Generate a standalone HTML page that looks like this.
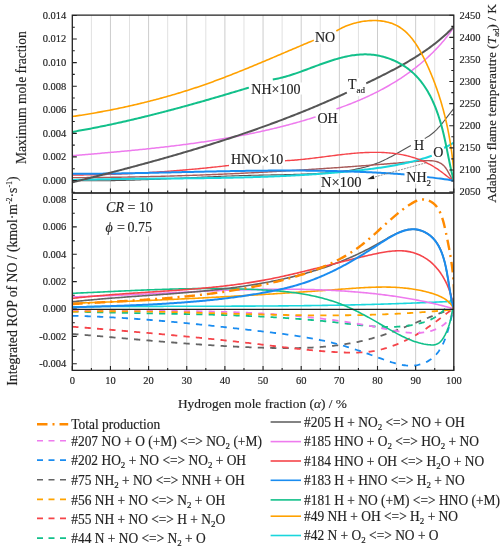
<!DOCTYPE html>
<html><head><meta charset="utf-8"><title>chart</title>
<style>html,body{margin:0;padding:0;background:#fff;}body{width:503px;height:550px;overflow:hidden;font-family:"Liberation Serif",serif;}svg{display:block;will-change:transform;}</style>
</head><body>
<svg width="503" height="550" viewBox="0 0 503 550">
<rect width="503" height="550" fill="#fff"/>
<line x1="91.38" y1="15.20" x2="91.38" y2="370.40" stroke="#e1e1e1" stroke-width="1"/>
<line x1="110.45" y1="15.20" x2="110.45" y2="370.40" stroke="#cdcdcd" stroke-width="1"/>
<line x1="129.53" y1="15.20" x2="129.53" y2="370.40" stroke="#e1e1e1" stroke-width="1"/>
<line x1="148.60" y1="15.20" x2="148.60" y2="370.40" stroke="#cdcdcd" stroke-width="1"/>
<line x1="167.68" y1="15.20" x2="167.68" y2="370.40" stroke="#e1e1e1" stroke-width="1"/>
<line x1="186.75" y1="15.20" x2="186.75" y2="370.40" stroke="#cdcdcd" stroke-width="1"/>
<line x1="205.82" y1="15.20" x2="205.82" y2="370.40" stroke="#e1e1e1" stroke-width="1"/>
<line x1="224.90" y1="15.20" x2="224.90" y2="370.40" stroke="#cdcdcd" stroke-width="1"/>
<line x1="243.98" y1="15.20" x2="243.98" y2="370.40" stroke="#e1e1e1" stroke-width="1"/>
<line x1="263.05" y1="15.20" x2="263.05" y2="370.40" stroke="#cdcdcd" stroke-width="1"/>
<line x1="282.12" y1="15.20" x2="282.12" y2="370.40" stroke="#e1e1e1" stroke-width="1"/>
<line x1="301.20" y1="15.20" x2="301.20" y2="370.40" stroke="#cdcdcd" stroke-width="1"/>
<line x1="320.27" y1="15.20" x2="320.27" y2="370.40" stroke="#e1e1e1" stroke-width="1"/>
<line x1="339.35" y1="15.20" x2="339.35" y2="370.40" stroke="#cdcdcd" stroke-width="1"/>
<line x1="358.43" y1="15.20" x2="358.43" y2="370.40" stroke="#e1e1e1" stroke-width="1"/>
<line x1="377.50" y1="15.20" x2="377.50" y2="370.40" stroke="#cdcdcd" stroke-width="1"/>
<line x1="396.57" y1="15.20" x2="396.57" y2="370.40" stroke="#e1e1e1" stroke-width="1"/>
<line x1="415.65" y1="15.20" x2="415.65" y2="370.40" stroke="#cdcdcd" stroke-width="1"/>
<line x1="434.73" y1="15.20" x2="434.73" y2="370.40" stroke="#e1e1e1" stroke-width="1"/>
<defs><clipPath id="cT"><rect x="72.3" y="15.2" width="381.5" height="177.8"/></clipPath><clipPath id="cB"><rect x="72.3" y="193.0" width="381.5" height="177.4"/></clipPath></defs>
<g clip-path="url(#cT)">
<path d="M72.30,180.60 L73.81,180.63 L75.32,180.66 L76.83,180.69 L78.34,180.71 L79.86,180.74 L81.37,180.76 L82.88,180.77 L84.39,180.79 L85.90,180.80 L87.41,180.81 L88.92,180.82 L90.43,180.82 L91.94,180.82 L93.45,180.82 L94.96,180.82 L96.47,180.82 L97.98,180.81 L99.50,180.80 L101.01,180.79 L102.52,180.78 L104.03,180.76 L105.54,180.74 L107.05,180.72 L108.55,180.70 L110.06,180.68 L111.57,180.66 L113.08,180.63 L114.59,180.60 L116.10,180.57 L117.61,180.54 L119.12,180.50 L120.63,180.47 L122.14,180.43 L123.65,180.39 L125.16,180.35 L126.67,180.31 L128.18,180.27 L129.69,180.22 L131.20,180.18 L132.70,180.13 L134.21,180.08 L135.72,180.03 L137.23,179.98 L138.74,179.93 L140.25,179.88 L141.76,179.82 L143.27,179.77 L144.77,179.71 L146.28,179.65 L147.79,179.59 L149.30,179.54 L150.81,179.48 L152.32,179.41 L153.83,179.35 L155.33,179.29 L156.84,179.23 L158.35,179.16 L159.86,179.10 L161.37,179.03 L162.87,178.96 L164.38,178.90 L165.89,178.83 L167.40,178.76 L168.91,178.69 L170.42,178.62 L171.92,178.56 L173.43,178.49 L174.94,178.42 L176.45,178.35 L177.96,178.28 L179.46,178.21 L180.97,178.14 L182.48,178.06 L183.99,177.99 L185.50,177.92 L187.00,177.85 L188.51,177.78 L190.02,177.71 L191.53,177.64 L193.04,177.57 L194.54,177.50 L196.05,177.43 L197.56,177.36 L199.07,177.29 L200.58,177.22 L202.08,177.15 L203.59,177.08 L205.10,177.01 L206.61,176.94 L208.12,176.88 L209.62,176.81 L211.13,176.74 L212.64,176.68 L214.15,176.61 L215.66,176.55 L217.16,176.49 L218.67,176.42 L220.18,176.36 L221.69,176.30 L223.20,176.24 L224.70,176.18 L226.21,176.12 L227.72,176.07 L229.23,176.01 L230.74,175.95 L232.25,175.90 L233.75,175.85 L235.26,175.80 L236.77,175.74 L238.28,175.70 L239.79,175.65 L241.30,175.60 L242.80,175.55 L244.31,175.51 L245.82,175.47 L247.33,175.43 L248.84,175.39 L250.35,175.35 L251.86,175.31 L253.37,175.28 L254.87,175.24 L256.38,175.21 L257.89,175.18 L259.40,175.15 L260.91,175.12 L262.42,175.09 L263.93,175.06 L265.44,175.03 L266.95,175.00 L268.46,174.98 L269.97,174.95 L271.48,174.92 L272.98,174.89 L274.49,174.86 L276.00,174.84 L277.51,174.81 L279.02,174.78 L280.53,174.75 L282.04,174.71 L283.55,174.68 L285.06,174.65 L286.57,174.61 L288.09,174.58 L289.60,174.54 L291.11,174.50 L292.62,174.46 L294.13,174.41 L295.64,174.37 L297.15,174.32 L298.66,174.27 L300.17,174.22 L301.69,174.16 L303.20,174.11 L304.71,174.05 L306.22,173.98 L307.73,173.92 L309.25,173.85 L310.76,173.77 L312.27,173.70 L313.78,173.62 L315.30,173.54 L316.81,173.45 L318.32,173.36 L319.84,173.26 L321.35,173.16 L322.86,173.06 L324.38,172.95 L325.89,172.84 L327.40,172.72 L328.92,172.60 L330.43,172.48 L331.95,172.35 L333.46,172.21 L334.98,172.07 L336.49,171.92 L338.00,171.76 L339.51,171.60 L341.02,171.42 L342.53,171.24 L344.04,171.05 L345.54,170.85 L347.04,170.64 L348.54,170.42 L350.04,170.19 L351.53,169.95 L353.02,169.69 L354.51,169.43 L355.99,169.15 L357.47,168.85 L358.94,168.54 L360.41,168.22 L361.87,167.88 L363.33,167.53 L364.78,167.16 L366.23,166.77 L367.67,166.37 L369.10,165.95 L370.53,165.51 L371.95,165.05 L373.37,164.58 L374.77,164.08 L376.17,163.56 L377.56,163.02 L378.95,162.47 L380.32,161.89 L381.69,161.29 L383.05,160.67 L384.40,160.04 L385.75,159.38 L387.09,158.72 L388.43,158.04 L389.76,157.34 L391.09,156.64 L392.41,155.92 L393.74,155.20 L395.05,154.46 L396.37,153.72 L397.68,152.97 L399.00,152.22 L400.31,151.47 L401.62,150.71 L402.94,149.96 L404.25,149.20 L405.57,148.45 L406.89,147.70 L408.21,146.96 L409.54,146.22 L410.87,145.50" fill="none" stroke="#555555" stroke-width="1.1" stroke-linejoin="round"/>
<path d="M424.78,138.39 L426.25,137.63 L427.67,136.81 L429.04,135.94 L430.37,135.02 L431.65,134.05 L432.90,133.04 L434.11,131.99 L435.29,130.91 L436.44,129.79 L437.56,128.64 L438.66,127.47 L439.73,126.27 L440.78,125.05 L441.81,123.81 L442.83,122.55 L443.84,121.28 L444.83,120.01 L445.82,118.72 L446.81,117.44 L447.79,116.15 L448.77,114.87 L449.76,113.59 L450.75,112.32 L451.75,111.06 L452.76,109.82 L453.78,108.59" fill="none" stroke="#555555" stroke-width="1.1" stroke-linejoin="round"/>
<path d="M72.23,177.64 L73.75,177.63 L75.27,177.63 L76.79,177.62 L78.31,177.62 L79.83,177.61 L81.35,177.60 L82.87,177.60 L84.39,177.59 L85.90,177.58 L87.42,177.57 L88.94,177.56 L90.46,177.54 L91.97,177.53 L93.49,177.52 L95.01,177.51 L96.52,177.49 L98.04,177.48 L99.56,177.46 L101.07,177.45 L102.59,177.43 L104.10,177.41 L105.62,177.40 L107.13,177.38 L108.65,177.36 L110.16,177.34 L111.67,177.32 L113.19,177.30 L114.70,177.28 L116.22,177.25 L117.73,177.23 L119.24,177.21 L120.76,177.18 L122.27,177.16 L123.78,177.13 L125.29,177.11 L126.81,177.08 L128.32,177.05 L129.83,177.02 L131.34,177.00 L132.85,176.97 L134.37,176.94 L135.88,176.91 L137.39,176.88 L138.90,176.84 L140.41,176.81 L141.92,176.78 L143.43,176.75 L144.94,176.71 L146.45,176.68 L147.96,176.64 L149.47,176.61 L150.98,176.57 L152.49,176.53 L154.00,176.49 L155.51,176.46 L157.02,176.42 L158.53,176.38 L160.04,176.34 L161.55,176.30 L163.06,176.25 L164.57,176.21 L166.07,176.17 L167.58,176.13 L169.09,176.08 L170.60,176.04 L172.11,175.99 L173.62,175.95 L175.12,175.90 L176.63,175.85 L178.14,175.81 L179.65,175.76 L181.15,175.71 L182.66,175.66 L184.17,175.61 L185.68,175.56 L187.18,175.51 L188.69,175.46 L190.20,175.41 L191.71,175.35 L193.21,175.30 L194.72,175.25 L196.23,175.19 L197.73,175.14 L199.24,175.08 L200.75,175.02 L202.25,174.97 L203.76,174.91 L205.27,174.85 L206.77,174.79 L208.28,174.73 L209.78,174.68 L211.29,174.61 L212.80,174.55 L214.30,174.49 L215.81,174.43 L217.32,174.37 L218.82,174.30 L220.33,174.24 L221.83,174.18 L223.34,174.11 L224.85,174.05 L226.35,173.98 L227.86,173.91 L229.36,173.85 L230.87,173.78 L232.37,173.71 L233.88,173.64 L235.39,173.57 L236.89,173.50 L238.40,173.43 L239.90,173.36 L241.41,173.29 L242.92,173.22 L244.42,173.14 L245.93,173.07 L247.43,173.00 L248.94,172.92 L250.45,172.85 L251.95,172.77 L253.46,172.70 L254.96,172.62 L256.47,172.54 L257.97,172.46 L259.48,172.39 L260.99,172.31 L262.49,172.23 L264.00,172.15 L265.51,172.07 L267.01,171.99 L268.52,171.90 L270.02,171.82 L271.53,171.74 L273.04,171.66 L274.54,171.57 L276.05,171.49 L277.56,171.40 L279.06,171.32 L280.57,171.23 L282.08,171.15 L283.58,171.06 L285.09,170.97 L286.60,170.88 L288.10,170.79 L289.61,170.70 L291.12,170.62 L292.63,170.53 L294.13,170.43 L295.64,170.34 L297.15,170.25 L298.66,170.16 L300.16,170.07 L301.67,169.97 L303.18,169.88 L304.69,169.78 L306.19,169.69 L307.70,169.59 L309.21,169.50 L310.72,169.40 L312.23,169.31 L313.74,169.21 L315.24,169.11 L316.75,169.01 L318.26,168.91 L319.77,168.81 L321.28,168.71 L322.79,168.61 L324.30,168.51 L325.81,168.41 L327.32,168.31 L328.83,168.20 L330.34,168.10 L331.85,168.00 L333.36,167.89 L334.87,167.79 L336.38,167.68 L337.89,167.58 L339.40,167.47 L340.91,167.37 L342.42,167.26 L343.93,167.15 L345.45,167.04 L346.96,166.93 L348.47,166.82 L349.98,166.72 L351.49,166.60 L353.01,166.49 L354.52,166.38 L356.03,166.27 L357.54,166.16 L359.06,166.05 L360.57,165.93 L362.08,165.82 L363.60,165.71 L365.11,165.59 L366.62,165.48 L368.14,165.36 L369.65,165.25 L371.17,165.13 L372.68,165.01 L374.20,164.89 L375.71,164.78 L377.23,164.66 L378.74,164.54 L380.26,164.42 L381.77,164.30 L383.29,164.18 L384.81,164.06 L386.32,163.94 L387.84,163.82 L389.36,163.69 L390.88,163.57 L392.39,163.45 L393.91,163.32 L395.43,163.20 L396.95,163.08 L398.47,162.95 L399.98,162.82 L401.50,162.70 L403.02,162.57 L404.54,162.45 L406.06,162.32 L407.58,162.19 L409.10,162.06 L410.62,161.93 L412.14,161.80 L413.66,161.67 L415.19,161.54 L416.71,161.41 L418.23,161.28 L419.75,161.15 L421.27,161.02 L422.79,160.90 L424.30,160.79 L425.80,160.71 L427.29,160.66 L428.77,160.65 L430.22,160.68 L431.66,160.76 L433.07,160.91 L434.45,161.12 L435.80,161.40 L437.12,161.77 L438.40,162.23 L439.64,162.78 L440.84,163.44 L442.00,164.20 L443.10,165.09 L444.16,166.10 L445.16,167.25 L446.10,168.52 L447.00,169.91 L447.85,171.37 L448.68,172.88 L449.50,174.39 L450.30,175.87 L451.11,177.30 L451.92,178.64 L452.76,179.86 L453.63,180.92" fill="none" stroke="#A85A58" stroke-width="1.4" stroke-linejoin="round"/>
<path d="M72.34,179.98 L73.85,179.93 L75.36,179.89 L76.86,179.85 L78.37,179.81 L79.88,179.77 L81.38,179.73 L82.89,179.69 L84.40,179.65 L85.91,179.62 L87.41,179.58 L88.92,179.55 L90.43,179.51 L91.94,179.48 L93.45,179.45 L94.96,179.42 L96.46,179.39 L97.97,179.36 L99.48,179.33 L100.99,179.30 L102.50,179.27 L104.01,179.25 L105.52,179.22 L107.03,179.19 L108.54,179.17 L110.05,179.15 L111.56,179.12 L113.07,179.10 L114.58,179.08 L116.09,179.06 L117.60,179.03 L119.11,179.01 L120.62,178.99 L122.14,178.97 L123.65,178.95 L125.16,178.94 L126.67,178.92 L128.18,178.90 L129.69,178.88 L131.20,178.86 L132.72,178.85 L134.23,178.83 L135.74,178.81 L137.25,178.80 L138.76,178.78 L140.28,178.77 L141.79,178.75 L143.30,178.74 L144.81,178.72 L146.33,178.71 L147.84,178.69 L149.35,178.68 L150.86,178.67 L152.38,178.65 L153.89,178.64 L155.40,178.63 L156.91,178.61 L158.43,178.60 L159.94,178.59 L161.45,178.57 L162.97,178.56 L164.48,178.55 L165.99,178.53 L167.51,178.52 L169.02,178.51 L170.54,178.49 L172.05,178.48 L173.56,178.46 L175.08,178.45 L176.59,178.44 L178.10,178.42 L179.62,178.41 L181.13,178.39 L182.65,178.38 L184.16,178.36 L185.67,178.35 L187.19,178.33 L188.70,178.32 L190.21,178.30 L191.73,178.28 L193.24,178.27 L194.76,178.25 L196.27,178.23 L197.79,178.21 L199.30,178.20 L200.81,178.18 L202.33,178.16 L203.84,178.14 L205.36,178.12 L206.87,178.10 L208.38,178.07 L209.90,178.05 L211.41,178.03 L212.93,178.01 L214.44,177.98 L215.95,177.96 L217.47,177.94 L218.98,177.91 L220.50,177.88 L222.01,177.86 L223.52,177.83 L225.04,177.80 L226.55,177.77 L228.07,177.74 L229.58,177.71 L231.09,177.68 L232.61,177.65 L234.12,177.62 L235.63,177.58 L237.15,177.55 L238.66,177.51 L240.18,177.48 L241.69,177.44 L243.20,177.40 L244.72,177.36 L246.23,177.32 L247.74,177.28 L249.26,177.24 L250.77,177.20 L252.28,177.15 L253.80,177.11 L255.31,177.06 L256.82,177.01 L258.33,176.96 L259.85,176.91 L261.36,176.86 L262.87,176.81 L264.38,176.76 L265.90,176.70 L267.41,176.65 L268.92,176.59 L270.43,176.54 L271.95,176.48 L273.46,176.42 L274.97,176.35 L276.48,176.29 L277.99,176.23 L279.50,176.16 L281.02,176.09 L282.53,176.03 L284.04,175.96 L285.55,175.88 L287.06,175.81 L288.57,175.74 L290.08,175.66 L291.59,175.58 L293.10,175.51 L294.62,175.43 L296.13,175.34 L297.64,175.26 L299.15,175.18 L300.66,175.09 L302.17,175.00 L303.68,174.91 L305.19,174.82 L306.69,174.73 L308.20,174.63 L309.71,174.54 L311.22,174.44 L312.73,174.34 L314.24,174.24 L315.75,174.13 L317.26,174.03 L318.77,173.92 L320.27,173.81 L321.78,173.70 L323.29,173.59 L324.80,173.47 L326.30,173.36 L327.81,173.24 L329.32,173.12 L330.83,173.00 L332.33,172.87 L333.84,172.75 L335.35,172.62 L336.85,172.49 L338.36,172.36 L339.86,172.22 L341.37,172.09 L342.88,171.95 L344.38,171.81 L345.89,171.66 L347.39,171.52 L348.90,171.37 L350.40,171.22 L351.90,171.07 L353.41,170.92 L354.91,170.76 L356.42,170.60 L357.92,170.44 L359.42,170.28 L360.93,170.12 L362.43,169.95 L363.93,169.78 L365.43,169.60 L366.93,169.42 L368.43,169.24 L369.93,169.06 L371.43,168.87 L372.93,168.67 L374.43,168.47 L375.93,168.27 L377.42,168.07 L378.92,167.86 L380.41,167.64 L381.91,167.42 L383.40,167.19 L384.89,166.96 L386.38,166.73 L387.87,166.48 L389.36,166.24 L390.84,165.98 L392.33,165.72 L393.81,165.45 L395.29,165.18 L396.78,164.90 L398.26,164.62 L399.73,164.32 L401.21,164.02 L402.68,163.72 L404.16,163.40 L405.63,163.08 L407.10,162.75 L408.57,162.41 L410.03,162.07 L411.50,161.71 L412.96,161.35 L414.42,160.98 L415.88,160.60 L417.34,160.21 L418.79,159.82 L420.24,159.41 L421.69,158.99 L423.14,158.57 L424.58,158.14 L426.03,157.69 L427.47,157.24 L428.91,156.77 L430.34,156.30 L431.78,155.81" fill="none" stroke="#1AD6DC" stroke-width="2.0" stroke-linejoin="round"/>
<path d="M443.90,147.90 C444.70,147.52 447.05,146.50 448.70,145.60 C450.35,144.70 452.95,143.02 453.80,142.50" fill="none" stroke="#1AD6DC" stroke-width="2.0" stroke-linejoin="round"/>
<path d="M72.30,175.03 L73.82,175.02 L75.35,175.01 L76.87,175.00 L78.40,174.99 L79.93,174.97 L81.45,174.96 L82.98,174.94 L84.50,174.92 L86.03,174.90 L87.55,174.88 L89.08,174.85 L90.60,174.82 L92.13,174.80 L93.65,174.77 L95.18,174.73 L96.70,174.70 L98.23,174.67 L99.75,174.63 L101.28,174.59 L102.80,174.55 L104.33,174.51 L105.85,174.47 L107.37,174.42 L108.90,174.38 L110.42,174.33 L111.95,174.28 L113.47,174.23 L114.99,174.18 L116.52,174.12 L118.04,174.06 L119.56,174.01 L121.09,173.95 L122.61,173.89 L124.13,173.82 L125.66,173.76 L127.18,173.69 L128.70,173.62 L130.23,173.55 L131.75,173.48 L133.27,173.41 L134.79,173.34 L136.32,173.26 L137.84,173.18 L139.36,173.10 L140.88,173.02 L142.41,172.94 L143.93,172.85 L145.45,172.77 L146.97,172.68 L148.49,172.59 L150.01,172.50 L151.54,172.40 L153.06,172.31 L154.58,172.21 L156.10,172.12 L157.62,172.02 L159.14,171.91 L160.66,171.81 L162.18,171.71 L163.70,171.60 L165.22,171.49 L166.74,171.38 L168.27,171.27 L169.79,171.16 L171.31,171.04 L172.83,170.93 L174.35,170.81 L175.87,170.69 L177.39,170.57 L178.91,170.45 L180.43,170.32 L181.95,170.20 L183.46,170.07 L184.98,169.94 L186.50,169.81 L188.02,169.67 L189.54,169.54 L191.06,169.40 L192.58,169.27 L194.10,169.13 L195.62,168.98 L197.14,168.84 L198.65,168.70 L200.17,168.55 L201.69,168.40 L203.21,168.25 L204.73,168.10 L206.25,167.95 L207.76,167.80 L209.28,167.64 L210.80,167.48 L212.32,167.32 L213.84,167.16 L215.35,167.00 L216.87,166.83 L218.39,166.67 L219.90,166.50 L221.42,166.33 L222.94,166.16 L224.46,165.99 L225.97,165.81 L227.49,165.64 L229.01,165.46" fill="none" stroke="#F5444A" stroke-width="1.4" stroke-linejoin="round"/>
<path d="M285.06,160.70 L286.51,160.63 L287.96,160.56 L289.41,160.48 L290.87,160.39 L292.33,160.29 L293.80,160.18 L295.27,160.06 L296.74,159.94 L298.22,159.81 L299.71,159.67 L301.19,159.52 L302.68,159.37 L304.18,159.21 L305.68,159.05 L307.18,158.88 L308.68,158.71 L310.19,158.54 L311.70,158.35 L313.21,158.17 L314.72,157.98 L316.24,157.79 L317.76,157.60 L319.28,157.41 L320.81,157.21 L322.33,157.01 L323.86,156.82 L325.39,156.62 L326.92,156.42 L328.46,156.22 L329.99,156.02 L331.53,155.83 L333.07,155.63 L334.60,155.44 L336.14,155.25 L337.68,155.06 L339.23,154.88 L340.77,154.69 L342.31,154.52 L343.85,154.34 L345.39,154.17 L346.94,154.01 L348.48,153.85 L350.02,153.70 L351.57,153.55 L353.11,153.41 L354.65,153.28 L356.19,153.15 L357.73,153.03 L359.27,152.92 L360.81,152.82 L362.35,152.72 L363.89,152.64 L365.42,152.56 L366.96,152.50 L368.49,152.45 L370.02,152.40 L371.55,152.37 L373.08,152.35 L374.60,152.34 L376.12,152.34 L377.64,152.35 L379.16,152.38 L380.68,152.42 L382.19,152.48 L383.70,152.55 L385.21,152.63 L386.72,152.73 L388.22,152.84 L389.72,152.97 L391.21,153.12 L392.70,153.28 L394.19,153.46 L395.68,153.66 L397.16,153.87 L398.63,154.10 L400.11,154.35 L401.58,154.62 L403.04,154.91 L404.50,155.22 L405.96,155.55 L407.41,155.89 L408.85,156.26 L410.29,156.65 L411.73,157.06 L413.16,157.49 L414.59,157.95 L416.01,158.43 L417.42,158.93 L418.83,159.45 L420.24,160.00 L421.64,160.57 L423.03,161.16 L424.41,161.78 L425.78,162.42 L427.15,163.08 L428.51,163.77 L429.85,164.48 L431.19,165.21 L432.51,165.96 L433.83,166.74 L435.13,167.54 L436.41,168.36 L437.69,169.20 L438.95,170.06 L440.19,170.95 L441.42,171.86 L442.64,172.78 L443.85,173.72 L445.05,174.66 L446.25,175.60 L447.45,176.53 L448.65,177.45 L449.87,178.36 L451.09,179.24 L452.33,180.09 L453.59,180.90" fill="none" stroke="#F5444A" stroke-width="1.4" stroke-linejoin="round"/>
<path d="M72.31,173.82 L73.82,173.81 L75.33,173.81 L76.84,173.81 L78.35,173.80 L79.86,173.80 L81.37,173.79 L82.88,173.79 L84.39,173.78 L85.90,173.77 L87.40,173.76 L88.91,173.75 L90.42,173.74 L91.93,173.73 L93.44,173.72 L94.95,173.70 L96.46,173.69 L97.97,173.68 L99.48,173.66 L100.99,173.65 L102.50,173.63 L104.01,173.61 L105.52,173.59 L107.03,173.57 L108.54,173.56 L110.05,173.54 L111.56,173.52 L113.07,173.49 L114.58,173.47 L116.09,173.45 L117.60,173.43 L119.11,173.40 L120.62,173.38 L122.13,173.36 L123.64,173.33 L125.15,173.31 L126.66,173.28 L128.17,173.25 L129.69,173.23 L131.20,173.20 L132.71,173.17 L134.22,173.15 L135.73,173.12 L137.24,173.09 L138.75,173.06 L140.26,173.03 L141.77,173.00 L143.28,172.97 L144.79,172.94 L146.30,172.91 L147.81,172.88 L149.32,172.85 L150.83,172.81 L152.35,172.78 L153.86,172.75 L155.37,172.72 L156.88,172.69 L158.39,172.65 L159.90,172.62 L161.41,172.59 L162.92,172.55 L164.43,172.52 L165.94,172.49 L167.45,172.45 L168.97,172.42 L170.48,172.39 L171.99,172.35 L173.50,172.32 L175.01,172.28 L176.52,172.25 L178.03,172.22 L179.54,172.18 L181.05,172.15 L182.56,172.11 L184.08,172.08 L185.59,172.05 L187.10,172.01 L188.61,171.98 L190.12,171.94 L191.63,171.91 L193.14,171.88 L194.65,171.84 L196.17,171.81 L197.68,171.78 L199.19,171.74 L200.70,171.71 L202.21,171.68 L203.72,171.65 L205.23,171.61 L206.74,171.58 L208.25,171.55 L209.77,171.52 L211.28,171.49 L212.79,171.46 L214.30,171.42 L215.81,171.39 L217.32,171.36 L218.83,171.33 L220.34,171.30 L221.86,171.28 L223.37,171.25 L224.88,171.22 L226.39,171.19 L227.90,171.16 L229.41,171.14 L230.92,171.11 L232.43,171.08 L233.94,171.06 L235.46,171.03 L236.97,171.01 L238.48,170.98 L239.99,170.96 L241.50,170.94 L243.01,170.91 L244.52,170.89 L246.03,170.87 L247.54,170.85 L249.05,170.83 L250.57,170.81 L252.08,170.79 L253.59,170.77 L255.10,170.75 L256.61,170.74 L258.12,170.72 L259.63,170.70 L261.14,170.69 L262.65,170.67 L264.16,170.66 L265.68,170.65 L267.19,170.64 L268.70,170.62 L270.21,170.61 L271.72,170.60 L273.23,170.59 L274.74,170.59 L276.25,170.58 L277.76,170.57 L279.27,170.57 L280.78,170.56 L282.29,170.56 L283.80,170.55 L285.31,170.55 L286.82,170.55 L288.33,170.55 L289.85,170.55 L291.36,170.55 L292.87,170.56 L294.38,170.56 L295.89,170.56 L297.40,170.57 L298.91,170.58 L300.42,170.58 L301.93,170.59 L303.44,170.60 L304.95,170.61 L306.46,170.63 L307.97,170.64 L309.48,170.65 L310.99,170.67 L312.50,170.68 L314.01,170.70 L315.52,170.72 L317.03,170.74 L318.54,170.76 L320.05,170.79 L321.56,170.81 L323.07,170.83 L324.58,170.86 L326.09,170.89 L327.60,170.92 L329.11,170.95 L330.62,170.98 L332.13,171.01 L333.63,171.04 L335.14,171.08 L336.65,171.12 L338.16,171.15 L339.67,171.19 L341.18,171.23 L342.69,171.28 L344.20,171.32 L345.71,171.37 L347.22,171.41 L348.73,171.46 L350.24,171.51 L351.74,171.56 L353.25,171.61 L354.76,171.67 L356.27,171.72 L357.78,171.78 L359.29,171.84 L360.80,171.90 L362.31,171.96 L363.81,172.03 L365.32,172.09 L366.83,172.16 L368.34,172.23 L369.85,172.30 L371.36,172.37 L372.86,172.44 L374.37,172.52 L375.88,172.59 L377.39,172.67 L378.90,172.75 L380.40,172.83 L381.91,172.92 L383.42,173.00 L384.93,173.09 L386.43,173.18 L387.94,173.27 L389.45,173.36 L390.96,173.46 L392.46,173.55 L393.97,173.65 L395.48,173.75 L396.99,173.85 L398.49,173.96 L400.00,174.06 L401.51,174.17 L403.01,174.28 L404.52,174.39" fill="none" stroke="#1A8CF0" stroke-width="2.0" stroke-linejoin="round"/>
<path d="M427.20,177.10 C429.33,177.35 435.57,178.00 440.00,178.60 C444.43,179.20 451.50,180.35 453.80,180.70" fill="none" stroke="#1A8CF0" stroke-width="2.0" stroke-linejoin="round"/>
<path d="M72.33,155.70 L73.83,155.57 L75.34,155.45 L76.84,155.32 L78.35,155.19 L79.85,155.06 L81.36,154.94 L82.87,154.81 L84.37,154.68 L85.88,154.55 L87.38,154.42 L88.89,154.29 L90.40,154.17 L91.91,154.04 L93.41,153.91 L94.92,153.78 L96.43,153.65 L97.94,153.52 L99.44,153.38 L100.95,153.25 L102.46,153.12 L103.97,152.99 L105.48,152.86 L106.99,152.72 L108.50,152.59 L110.01,152.45 L111.51,152.32 L113.02,152.18 L114.53,152.05 L116.04,151.91 L117.55,151.77 L119.06,151.63 L120.57,151.49 L122.08,151.35 L123.59,151.21 L125.10,151.07 L126.61,150.93 L128.12,150.78 L129.63,150.64 L131.14,150.49 L132.65,150.34 L134.16,150.20 L135.67,150.05 L137.18,149.90 L138.69,149.75 L140.20,149.60 L141.70,149.44 L143.21,149.29 L144.72,149.13 L146.23,148.98 L147.74,148.82 L149.25,148.66 L150.76,148.50 L152.27,148.34 L153.78,148.18 L155.28,148.01 L156.79,147.85 L158.30,147.68 L159.81,147.51 L161.32,147.34 L162.82,147.17 L164.33,147.00 L165.84,146.82 L167.35,146.65 L168.85,146.47 L170.36,146.29 L171.87,146.11 L173.37,145.93 L174.88,145.74 L176.38,145.56 L177.89,145.37 L179.39,145.18 L180.90,144.99 L182.40,144.80 L183.91,144.60 L185.41,144.41 L186.92,144.21 L188.42,144.01 L189.92,143.80 L191.43,143.60 L192.93,143.39 L194.43,143.19 L195.93,142.98 L197.43,142.76 L198.93,142.55 L200.44,142.33 L201.94,142.11 L203.44,141.89 L204.93,141.67 L206.43,141.44 L207.93,141.22 L209.43,140.99 L210.93,140.76 L212.43,140.52 L213.92,140.28 L215.42,140.05 L216.92,139.80 L218.41,139.56 L219.91,139.31 L221.40,139.06 L222.90,138.81 L224.39,138.56 L225.88,138.30 L227.38,138.04 L228.87,137.78 L230.36,137.52 L231.85,137.25 L233.34,136.98 L234.83,136.71 L236.32,136.44 L237.81,136.16 L239.30,135.88 L240.78,135.60 L242.27,135.31 L243.76,135.02 L245.24,134.73 L246.73,134.43 L248.21,134.14 L249.70,133.84 L251.18,133.53 L252.66,133.23 L254.15,132.92 L255.63,132.61 L257.11,132.29 L258.59,131.97 L260.07,131.65 L261.55,131.32 L263.02,131.00 L264.50,130.67 L265.98,130.33 L267.45,129.99 L268.93,129.65 L270.40,129.31 L271.88,128.96 L273.35,128.61 L274.82,128.25 L276.29,127.90 L277.76,127.54 L279.23,127.17 L280.70,126.80 L282.17,126.43 L283.64,126.06 L285.10,125.68 L286.57,125.30 L288.03,124.91 L289.50,124.52 L290.96,124.13 L292.42,123.73 L293.88,123.33 L295.34,122.92 L296.80,122.52 L298.26,122.10 L299.72,121.69 L301.18,121.27 L302.63,120.85 L304.09,120.42 L305.54,119.99 L306.99,119.55 L308.45,119.11 L309.90,118.67 L311.35,118.22 L312.80,117.77 L314.25,117.32 L315.69,116.86" fill="none" stroke="#EE7BEE" stroke-width="1.5" stroke-linejoin="round"/>
<path d="M336.43,108.91 L337.88,108.42 L339.32,107.92 L340.76,107.42 L342.19,106.90 L343.63,106.38 L345.06,105.86 L346.49,105.33 L347.93,104.79 L349.35,104.24 L350.78,103.69 L352.20,103.13 L353.63,102.56 L355.04,101.98 L356.46,101.40 L357.88,100.81 L359.29,100.22 L360.70,99.62 L362.10,99.01 L363.50,98.39 L364.90,97.76 L366.30,97.13 L367.69,96.49 L369.08,95.85 L370.47,95.19 L371.85,94.53 L373.23,93.86 L374.60,93.19 L375.98,92.50 L377.34,91.81 L378.71,91.11 L380.06,90.41 L381.42,89.69 L382.77,88.97 L384.11,88.24 L385.46,87.50 L386.79,86.75 L388.12,86.00 L389.45,85.24 L390.77,84.47 L392.09,83.69 L393.40,82.90 L394.71,82.11 L396.01,81.31 L397.30,80.50 L398.59,79.68 L399.88,78.85 L401.15,78.02 L402.43,77.17 L403.69,76.32 L404.95,75.46 L406.21,74.59 L407.45,73.71 L408.70,72.83 L409.93,71.93 L411.16,71.03 L412.38,70.12 L413.60,69.20 L414.80,68.27 L416.01,67.33 L417.20,66.38 L418.39,65.42 L419.57,64.46 L420.74,63.49 L421.90,62.50 L423.06,61.51 L424.21,60.51 L425.35,59.50 L426.49,58.48 L427.61,57.45 L428.73,56.41 L429.84,55.37 L430.94,54.31 L432.04,53.25 L433.12,52.17 L434.20,51.09 L435.26,49.99 L436.32,48.89 L437.37,47.78 L438.42,46.65 L439.45,45.52 L440.47,44.38 L441.48,43.23 L442.49,42.07 L443.48,40.90 L444.47,39.72 L445.45,38.53 L446.41,37.33 L447.37,36.12 L448.31,34.90 L449.25,33.67 L450.18,32.42 L451.09,31.17 L452.00,29.91 L452.89,28.64 L453.78,27.36" fill="none" stroke="#EE7BEE" stroke-width="1.5" stroke-linejoin="round"/>
<path d="M72.33,182.33 L73.80,181.97 L75.27,181.60 L76.74,181.24 L78.21,180.87 L79.68,180.50 L81.15,180.13 L82.62,179.77 L84.08,179.40 L85.55,179.03 L87.02,178.66 L88.49,178.29 L89.96,177.92 L91.43,177.54 L92.89,177.17 L94.36,176.80 L95.83,176.43 L97.30,176.05 L98.76,175.68 L100.23,175.30 L101.70,174.93 L103.17,174.55 L104.63,174.17 L106.10,173.80 L107.57,173.42 L109.03,173.04 L110.50,172.66 L111.97,172.28 L113.43,171.90 L114.90,171.52 L116.37,171.14 L117.83,170.75 L119.30,170.37 L120.76,169.98 L122.23,169.60 L123.69,169.21 L125.16,168.83 L126.62,168.44 L128.09,168.05 L129.55,167.66 L131.01,167.27 L132.48,166.88 L133.94,166.49 L135.41,166.09 L136.87,165.70 L138.33,165.31 L139.79,164.91 L141.26,164.51 L142.72,164.12 L144.18,163.72 L145.64,163.32 L147.10,162.92 L148.56,162.52 L150.03,162.12 L151.49,161.72 L152.95,161.31 L154.41,160.91 L155.87,160.50 L157.33,160.09 L158.78,159.69 L160.24,159.28 L161.70,158.87 L163.16,158.46 L164.62,158.04 L166.07,157.63 L167.53,157.22 L168.99,156.80 L170.45,156.38 L171.90,155.97 L173.36,155.55 L174.81,155.13 L176.27,154.71 L177.72,154.28 L179.18,153.86 L180.63,153.44 L182.08,153.01 L183.54,152.58 L184.99,152.16 L186.44,151.73 L187.89,151.29 L189.35,150.86 L190.80,150.43 L192.25,149.99 L193.70,149.56 L195.15,149.12 L196.60,148.68 L198.05,148.24 L199.50,147.80 L200.94,147.36 L202.39,146.92 L203.84,146.47 L205.29,146.02 L206.73,145.58 L208.18,145.13 L209.62,144.68 L211.07,144.22 L212.51,143.77 L213.96,143.32 L215.40,142.86 L216.84,142.40 L218.29,141.94 L219.73,141.48 L221.17,141.02 L222.61,140.55 L224.05,140.09 L225.49,139.62 L226.93,139.15 L228.37,138.68 L229.81,138.21 L231.25,137.74 L232.68,137.26 L234.12,136.79 L235.56,136.31 L236.99,135.83 L238.43,135.35 L239.86,134.87 L241.30,134.38 L242.73,133.89 L244.16,133.41 L245.60,132.92 L247.03,132.43 L248.46,131.93 L249.89,131.44 L251.32,130.94 L252.75,130.44 L254.18,129.94 L255.60,129.44 L257.03,128.94 L258.46,128.43 L259.89,127.93 L261.31,127.42 L262.74,126.91 L264.16,126.40 L265.58,125.88 L267.01,125.37 L268.43,124.85 L269.85,124.33 L271.27,123.81 L272.69,123.28 L274.11,122.76 L275.53,122.23 L276.95,121.70 L278.37,121.17 L279.78,120.64 L281.20,120.10 L282.61,119.57 L284.03,119.03 L285.44,118.49 L286.86,117.94 L288.27,117.40 L289.68,116.85 L291.09,116.30 L292.50,115.75 L293.91,115.20 L295.32,114.64 L296.73,114.09 L298.14,113.53 L299.54,112.97 L300.95,112.40 L302.35,111.84 L303.76,111.27 L305.16,110.70 L306.56,110.13 L307.97,109.56 L309.37,108.98 L310.77,108.40 L312.17,107.82 L313.56,107.24 L314.96,106.65 L316.36,106.07 L317.76,105.48 L319.15,104.89 L320.55,104.29 L321.94,103.70 L323.33,103.10 L324.72,102.50 L326.12,101.89 L327.51,101.29 L328.90,100.68 L330.28,100.07 L331.67,99.46 L333.06,98.85 L334.44,98.23 L335.83,97.61 L337.21,96.99 L338.60,96.36 L339.98,95.74 L341.36,95.11 L342.74,94.48 L344.12,93.84 L345.50,93.21 L346.88,92.57" fill="none" stroke="#555555" stroke-width="2.0" stroke-linejoin="round"/>
<path d="M366.24,83.34 L367.62,82.68 L369.00,82.01 L370.38,81.33 L371.76,80.66 L373.15,79.99 L374.53,79.31 L375.91,78.63 L377.30,77.95 L378.68,77.26 L380.06,76.58 L381.44,75.89 L382.82,75.20 L384.20,74.50 L385.58,73.80 L386.95,73.10 L388.33,72.39 L389.70,71.69 L391.07,70.97 L392.44,70.25 L393.81,69.53 L395.17,68.81 L396.54,68.08 L397.90,67.34 L399.25,66.60 L400.61,65.85 L401.96,65.10 L403.31,64.35 L404.65,63.58 L405.99,62.82 L407.33,62.04 L408.66,61.26 L409.99,60.48 L411.31,59.68 L412.63,58.88 L413.95,58.08 L415.26,57.26 L416.57,56.44 L417.87,55.62 L419.16,54.78 L420.45,53.94 L421.74,53.09 L423.02,52.23 L424.29,51.36 L425.56,50.49 L426.82,49.61 L428.08,48.72 L429.33,47.82 L430.57,46.91 L431.81,45.99 L433.03,45.06 L434.26,44.12 L435.47,43.18 L436.68,42.22 L437.88,41.25 L439.07,40.28 L440.26,39.29 L441.43,38.30 L442.60,37.29 L443.76,36.27 L444.91,35.24 L446.05,34.20 L447.19,33.15 L448.31,32.09 L449.43,31.01 L450.54,29.92 L451.63,28.83 L452.72,27.72 L453.80,26.59" fill="none" stroke="#555555" stroke-width="2.0" stroke-linejoin="round"/>
<path d="M72.33,131.90 L73.82,131.65 L75.32,131.39 L76.81,131.12 L78.31,130.86 L79.80,130.59 L81.30,130.32 L82.79,130.05 L84.28,129.77 L85.77,129.50 L87.26,129.22 L88.76,128.94 L90.25,128.65 L91.74,128.36 L93.23,128.07 L94.72,127.78 L96.20,127.49 L97.69,127.19 L99.18,126.89 L100.67,126.59 L102.16,126.29 L103.64,125.98 L105.13,125.68 L106.61,125.37 L108.10,125.05 L109.58,124.74 L111.07,124.42 L112.55,124.11 L114.04,123.79 L115.52,123.46 L117.00,123.14 L118.48,122.81 L119.97,122.48 L121.45,122.15 L122.93,121.82 L124.41,121.48 L125.89,121.15 L127.37,120.81 L128.85,120.47 L130.33,120.12 L131.81,119.78 L133.28,119.43 L134.76,119.08 L136.24,118.73 L137.72,118.38 L139.19,118.03 L140.67,117.67 L142.14,117.31 L143.62,116.95 L145.09,116.59 L146.57,116.23 L148.04,115.87 L149.52,115.50 L150.99,115.13 L152.46,114.76 L153.93,114.39 L155.41,114.02 L156.88,113.64 L158.35,113.27 L159.82,112.89 L161.29,112.51 L162.76,112.13 L164.23,111.75 L165.70,111.36 L167.17,110.98 L168.64,110.59 L170.11,110.20 L171.57,109.82 L173.04,109.42 L174.51,109.03 L175.98,108.64 L177.44,108.24 L178.91,107.85 L180.37,107.45 L181.84,107.05 L183.30,106.65 L184.77,106.25 L186.23,105.85 L187.70,105.44 L189.16,105.04 L190.62,104.63 L192.09,104.22 L193.55,103.81 L195.01,103.40 L196.47,102.99 L197.93,102.58 L199.39,102.17 L200.86,101.75 L202.32,101.34 L203.78,100.92 L205.24,100.50 L206.70,100.08 L208.15,99.67 L209.61,99.24 L211.07,98.82 L212.53,98.40 L213.99,97.98 L215.45,97.55 L216.90,97.13 L218.36,96.70 L219.82,96.28 L221.27,95.85 L222.73,95.42 L224.18,94.99 L225.64,94.56 L227.09,94.13 L228.55,93.70 L230.00,93.27 L231.46,92.83 L232.91,92.40 L234.36,91.97 L235.82,91.53 L237.27,91.10 L238.72,90.66 L240.17,90.22 L241.63,89.79 L243.08,89.35 L244.53,88.91 L245.98,88.47 L247.43,88.03 L248.88,87.59" fill="none" stroke="#12C08A" stroke-width="2.0" stroke-linejoin="round"/>
<path d="M272.78,79.46 L274.15,79.24 L275.53,78.99 L276.91,78.72 L278.30,78.43 L279.69,78.12 L281.08,77.79 L282.48,77.44 L283.88,77.08 L285.29,76.69 L286.70,76.29 L288.11,75.87 L289.53,75.44 L290.95,75.00 L292.37,74.54 L293.80,74.07 L295.23,73.59 L296.66,73.10 L298.09,72.59 L299.53,72.09 L300.97,71.57 L302.42,71.04 L303.87,70.51 L305.31,69.98 L306.77,69.44 L308.22,68.90 L309.68,68.35 L311.14,67.80 L312.60,67.26 L314.06,66.71 L315.53,66.16 L316.99,65.62 L318.46,65.08 L319.93,64.54 L321.41,64.00 L322.88,63.47 L324.35,62.95 L325.83,62.44 L327.31,61.93 L328.79,61.43 L330.27,60.94 L331.75,60.46 L333.24,60.00 L334.72,59.54 L336.20,59.10 L337.69,58.67 L339.18,58.26 L340.66,57.86 L342.15,57.48 L343.64,57.12 L345.13,56.77 L346.61,56.45 L348.10,56.14 L349.59,55.86 L351.08,55.59 L352.57,55.35 L354.06,55.14 L355.55,54.94 L357.04,54.78 L358.52,54.64 L360.01,54.52 L361.50,54.44 L362.99,54.38 L364.47,54.35 L365.96,54.36 L367.44,54.39 L368.92,54.46 L370.41,54.56 L371.89,54.69 L373.36,54.85 L374.84,55.04 L376.30,55.26 L377.77,55.52 L379.23,55.81 L380.68,56.12 L382.13,56.47 L383.57,56.84 L385.00,57.25 L386.43,57.68 L387.84,58.15 L389.24,58.64 L390.64,59.16 L392.02,59.71 L393.39,60.29 L394.75,60.89 L396.10,61.52 L397.44,62.18 L398.75,62.87 L400.06,63.58 L401.35,64.32 L402.62,65.09 L403.88,65.88 L405.12,66.70 L406.34,67.54 L407.54,68.41 L408.73,69.30 L409.89,70.22 L411.03,71.16 L412.16,72.13 L413.26,73.12 L414.34,74.13 L415.39,75.17 L416.43,76.23 L417.44,77.31 L418.43,78.42 L419.39,79.54 L420.34,80.69 L421.26,81.85 L422.17,83.04 L423.05,84.24 L423.92,85.46 L424.76,86.70 L425.58,87.96 L426.39,89.23 L427.18,90.52 L427.94,91.82 L428.69,93.14 L429.42,94.47 L430.14,95.81 L430.83,97.17 L431.51,98.54 L432.17,99.92 L432.82,101.32 L433.45,102.72 L434.06,104.13 L434.66,105.56 L435.24,106.99 L435.81,108.43 L436.36,109.87 L436.90,111.33 L437.43,112.79 L437.94,114.25 L438.43,115.72 L438.92,117.20 L439.39,118.68 L439.85,120.16 L440.29,121.65 L440.73,123.14 L441.15,124.63 L441.56,126.12 L441.96,127.61 L442.35,129.10 L442.73,130.60 L443.10,132.09 L443.46,133.58 L443.82,135.07 L444.16,136.55 L444.50,138.04 L444.83,139.53 L445.15,141.01 L445.47,142.50 L445.78,143.98 L446.09,145.46 L446.40,146.94 L446.70,148.42 L447.00,149.89 L447.29,151.36 L447.59,152.84 L447.88,154.31 L448.18,155.77 L448.47,157.24 L448.77,158.70 L449.06,160.16 L449.36,161.61 L449.66,163.07 L449.97,164.52 L450.27,165.96 L450.58,167.41 L450.90,168.85 L451.22,170.29 L451.55,171.72 L451.89,173.15 L452.23,174.57 L452.58,176.00 L452.94,177.41 L453.30,178.83 L453.68,180.24" fill="none" stroke="#12C08A" stroke-width="2.0" stroke-linejoin="round"/>
<path d="M72.21,116.54 L73.72,116.32 L75.22,116.10 L76.72,115.87 L78.22,115.64 L79.71,115.41 L81.21,115.18 L82.71,114.94 L84.21,114.70 L85.71,114.46 L87.20,114.21 L88.70,113.96 L90.20,113.71 L91.69,113.46 L93.19,113.20 L94.68,112.94 L96.17,112.68 L97.67,112.41 L99.16,112.14 L100.65,111.87 L102.14,111.59 L103.63,111.32 L105.12,111.04 L106.61,110.75 L108.10,110.47 L109.59,110.18 L111.07,109.88 L112.56,109.59 L114.05,109.29 L115.53,108.99 L117.02,108.68 L118.50,108.38 L119.98,108.07 L121.46,107.75 L122.95,107.44 L124.43,107.12 L125.91,106.79 L127.39,106.47 L128.87,106.14 L130.34,105.81 L131.82,105.47 L133.30,105.14 L134.77,104.80 L136.25,104.45 L137.72,104.10 L139.19,103.75 L140.67,103.40 L142.14,103.04 L143.61,102.69 L145.08,102.32 L146.55,101.96 L148.02,101.59 L149.48,101.22 L150.95,100.84 L152.41,100.46 L153.88,100.08 L155.34,99.70 L156.81,99.31 L158.27,98.92 L159.73,98.52 L161.19,98.13 L162.65,97.73 L164.11,97.32 L165.56,96.92 L167.02,96.51 L168.47,96.09 L169.93,95.68 L171.38,95.26 L172.83,94.83 L174.28,94.41 L175.74,93.98 L177.18,93.54 L178.63,93.11 L180.08,92.67 L181.53,92.23 L182.97,91.78 L184.41,91.33 L185.86,90.88 L187.30,90.42 L188.74,89.96 L190.18,89.50 L191.62,89.03 L193.05,88.56 L194.49,88.09 L195.93,87.62 L197.36,87.14 L198.79,86.65 L200.22,86.17 L201.65,85.68 L203.08,85.18 L204.51,84.69 L205.94,84.19 L207.36,83.69 L208.79,83.18 L210.21,82.67 L211.64,82.16 L213.06,81.64 L214.48,81.12 L215.90,80.60 L217.31,80.07 L218.73,79.55 L220.15,79.02 L221.56,78.48 L222.97,77.95 L224.39,77.41 L225.80,76.86 L227.21,76.32 L228.62,75.77 L230.03,75.23 L231.44,74.67 L232.85,74.12 L234.25,73.56 L235.66,73.01 L237.06,72.45 L238.47,71.88 L239.87,71.32 L241.28,70.75 L242.68,70.19 L244.08,69.62 L245.48,69.05 L246.88,68.47 L248.28,67.90 L249.68,67.32 L251.08,66.75 L252.48,66.17 L253.88,65.59 L255.27,65.01 L256.67,64.42 L258.07,63.84 L259.46,63.26 L260.86,62.67 L262.25,62.08 L263.65,61.50 L265.04,60.91 L266.44,60.32 L267.83,59.73 L269.22,59.14 L270.62,58.55 L272.01,57.96 L273.40,57.36 L274.79,56.77 L276.19,56.18 L277.58,55.59 L278.97,54.99 L280.36,54.40 L281.75,53.81 L283.15,53.21 L284.54,52.62 L285.93,52.03 L287.32,51.44 L288.71,50.84 L290.10,50.25 L291.49,49.66 L292.88,49.07 L294.28,48.48 L295.67,47.89 L297.06,47.30 L298.45,46.71 L299.84,46.12 L301.24,45.53 L302.63,44.95 L304.02,44.36 L305.41,43.78 L306.81,43.19 L308.20,42.61 L309.59,42.03 L310.99,41.45 L312.38,40.87 L313.78,40.29" fill="none" stroke="#FFA100" stroke-width="1.6" stroke-linejoin="round"/>
<path d="M336.36,31.02 L337.55,30.28 L338.77,29.57 L340.03,28.87 L341.33,28.20 L342.65,27.56 L344.00,26.94 L345.38,26.34 L346.78,25.77 L348.21,25.22 L349.66,24.70 L351.13,24.21 L352.62,23.74 L354.13,23.31 L355.65,22.90 L357.19,22.52 L358.73,22.18 L360.29,21.86 L361.86,21.58 L363.43,21.33 L365.01,21.11 L366.59,20.93 L368.18,20.78 L369.76,20.67 L371.35,20.59 L372.92,20.55 L374.50,20.54 L376.07,20.57 L377.63,20.65 L379.18,20.76 L380.72,20.91 L382.24,21.10 L383.75,21.33 L385.25,21.60 L386.72,21.92 L388.18,22.27 L389.61,22.68 L391.02,23.12 L392.40,23.61 L393.76,24.15 L395.09,24.73 L396.39,25.36 L397.66,26.03 L398.90,26.75 L400.11,27.51 L401.30,28.32 L402.45,29.16 L403.58,30.04 L404.69,30.96 L405.77,31.92 L406.82,32.91 L407.85,33.93 L408.86,34.99 L409.84,36.08 L410.81,37.19 L411.75,38.33 L412.67,39.50 L413.57,40.70 L414.45,41.91 L415.31,43.15 L416.16,44.41 L416.99,45.69 L417.80,46.99 L418.59,48.30 L419.37,49.63 L420.13,50.97 L420.88,52.33 L421.62,53.70 L422.34,55.07 L423.06,56.46 L423.76,57.85 L424.45,59.24 L425.12,60.64 L425.79,62.05 L426.45,63.45 L427.11,64.86 L427.75,66.27 L428.38,67.68 L429.01,69.09 L429.62,70.51 L430.23,71.92 L430.83,73.34 L431.42,74.76 L432.00,76.18 L432.57,77.60 L433.14,79.03 L433.69,80.45 L434.24,81.88 L434.78,83.31 L435.31,84.74 L435.83,86.17 L436.34,87.61 L436.85,89.05 L437.35,90.48 L437.84,91.92 L438.32,93.36 L438.80,94.81 L439.26,96.25 L439.72,97.70 L440.17,99.15 L440.61,100.59 L441.05,102.05 L441.48,103.50 L441.90,104.95 L442.31,106.41 L442.72,107.86 L443.12,109.32 L443.51,110.78 L443.89,112.25 L444.27,113.71 L444.64,115.17 L445.00,116.64 L445.35,118.11 L445.70,119.58 L446.04,121.05 L446.38,122.52 L446.71,123.99 L447.03,125.47 L447.34,126.95 L447.65,128.42 L447.95,129.90 L448.24,131.39 L448.53,132.87 L448.81,134.35 L449.09,135.84 L449.36,137.32 L449.62,138.81 L449.88,140.30 L450.13,141.79 L450.37,143.28 L450.61,144.78 L450.84,146.27 L451.07,147.77 L451.29,149.27 L451.50,150.77 L451.71,152.27 L451.91,153.77 L452.11,155.27 L452.30,156.78 L452.49,158.28 L452.67,159.79 L452.84,161.30 L453.01,162.81 L453.18,164.32 L453.34,165.83 L453.49,167.34 L453.64,168.86 L453.78,170.37 L453.92,171.89 L454.05,173.41 L454.18,174.93 L454.31,176.45 L454.43,177.97" fill="none" stroke="#FFA100" stroke-width="1.6" stroke-linejoin="round"/>
<line x1="426" y1="162.8" x2="370" y2="178.3" stroke="#777" stroke-width="0.8" stroke-dasharray="2 1"/>
<path d="M367.2,179.2 L373.5,175.3 L374.5,179.0 Z" fill="#222"/>
</g>
<g clip-path="url(#cB)">
<path d="M72.29,333.92 L73.80,334.04 L75.31,334.16 L76.83,334.29 L78.34,334.42 L79.85,334.54 L81.36,334.67 L82.87,334.79 L84.38,334.92 L85.89,335.05 L87.39,335.18 L88.90,335.31 L90.41,335.43 L91.92,335.56 L93.43,335.69 L94.93,335.82 L96.44,335.95 L97.95,336.08 L99.45,336.21 L100.96,336.34 L102.46,336.47 L103.97,336.61 L105.48,336.74 L106.98,336.87 L108.49,337.00 L109.99,337.13 L111.49,337.26 L113.00,337.39 L114.50,337.53 L116.01,337.66 L117.51,337.79 L119.01,337.92 L120.52,338.05 L122.02,338.18 L123.52,338.32 L125.03,338.45 L126.53,338.58 L128.03,338.71 L129.53,338.84 L131.04,338.97 L132.54,339.10 L134.04,339.23 L135.54,339.36 L137.04,339.49 L138.55,339.62 L140.05,339.75 L141.55,339.88 L143.05,340.01 L144.55,340.14 L146.05,340.27 L147.55,340.40 L149.06,340.52 L150.56,340.65 L152.06,340.78 L153.56,340.91 L155.06,341.03 L156.56,341.16 L158.06,341.28 L159.56,341.41 L161.06,341.53 L162.57,341.65 L164.07,341.78 L165.57,341.90 L167.07,342.02 L168.57,342.14 L170.07,342.26 L171.57,342.38 L173.08,342.50 L174.58,342.62 L176.08,342.74 L177.58,342.86 L179.08,342.97 L180.58,343.09 L182.09,343.20 L183.59,343.32 L185.09,343.43 L186.59,343.54 L188.10,343.66 L189.60,343.77 L191.10,343.88 L192.60,343.98 L194.11,344.09 L195.61,344.20 L197.11,344.31 L198.62,344.41 L200.12,344.52 L201.63,344.62 L203.13,344.72 L204.63,344.82 L206.14,344.92 L207.64,345.02 L209.15,345.12 L210.65,345.22 L212.16,345.31 L213.67,345.41 L215.17,345.50 L216.68,345.59 L218.18,345.68 L219.69,345.77 L221.20,345.86 L222.71,345.95 L224.21,346.03 L225.72,346.12 L227.23,346.20 L228.74,346.28 L230.25,346.37 L231.76,346.44 L233.27,346.52 L234.78,346.60 L236.29,346.67 L237.80,346.75 L239.31,346.82 L240.82,346.89 L242.33,346.96 L243.85,347.03 L245.36,347.09 L246.87,347.16 L248.39,347.22 L249.90,347.28 L251.41,347.34 L252.93,347.40 L254.44,347.46 L255.96,347.51 L257.48,347.56 L258.99,347.62 L260.51,347.67 L262.03,347.71 L263.54,347.76 L265.06,347.80 L266.58,347.85 L268.10,347.89 L269.62,347.92 L271.14,347.96 L272.66,347.99 L274.18,348.02 L275.70,348.05 L277.22,348.07 L278.74,348.09 L280.26,348.11 L281.78,348.12 L283.30,348.13 L284.82,348.14 L286.34,348.15 L287.86,348.15 L289.38,348.14 L290.90,348.13 L292.41,348.12 L293.93,348.11 L295.45,348.09 L296.97,348.06 L298.48,348.03 L300.00,348.00 L301.52,347.96 L303.03,347.91 L304.55,347.87 L306.06,347.81 L307.58,347.75 L309.09,347.69 L310.60,347.62 L312.11,347.54 L313.62,347.46 L315.13,347.37 L316.64,347.28 L318.15,347.18 L319.65,347.07 L321.16,346.96 L322.66,346.84 L324.17,346.72 L325.67,346.59 L327.17,346.45 L328.67,346.30 L330.17,346.15 L331.67,345.99 L333.16,345.82 L334.66,345.65 L336.15,345.47 L337.64,345.28 L339.13,345.08 L340.62,344.88 L342.11,344.66 L343.60,344.44 L345.08,344.21 L346.56,343.98 L348.04,343.73 L349.52,343.48 L351.00,343.21 L352.48,342.94 L353.95,342.66 L355.42,342.37 L356.89,342.07 L358.36,341.76 L359.82,341.45 L361.29,341.12 L362.75,340.78 L364.21,340.44 L365.67,340.08 L367.12,339.72 L368.57,339.34 L370.02,338.96 L371.47,338.56 L372.92,338.15 L374.36,337.74 L375.80,337.31 L377.24,336.88 L378.68,336.44 L380.12,335.98 L381.55,335.52 L382.98,335.06 L384.41,334.58 L385.84,334.10 L387.27,333.61 L388.69,333.12 L390.12,332.61 L391.54,332.11 L392.96,331.59 L394.38,331.07 L395.80,330.55 L397.21,330.02 L398.63,329.49 L400.04,328.95 L401.46,328.41 L402.87,327.86 L404.28,327.31 L405.69,326.76 L407.10,326.21 L408.51,325.65 L409.92,325.09 L411.32,324.53 L412.73,323.97 L414.14,323.40 L415.54,322.84 L416.95,322.27 L418.35,321.71 L419.76,321.14 L421.16,320.58 L422.57,320.01 L423.97,319.45 L425.37,318.88 L426.78,318.32 L428.18,317.76 L429.58,317.20 L430.99,316.65 L432.39,316.10 L433.80,315.55 L435.20,315.00 L436.61,314.46 L438.01,313.92 L439.42,313.38 L440.82,312.85 L442.23,312.32 L443.64,311.80 L445.05,311.29 L446.46,310.78 L447.87,310.27 L449.28,309.78 L450.69,309.29 L452.10,308.80 L453.51,308.32" fill="none" stroke="#646464" stroke-width="1.8" stroke-dasharray="6.2 6.2" stroke-linejoin="round"/>
<path d="M72.29,326.67 L73.80,326.79 L75.31,326.92 L76.82,327.04 L78.32,327.16 L79.83,327.28 L81.34,327.40 L82.85,327.52 L84.35,327.65 L85.86,327.77 L87.37,327.89 L88.87,328.01 L90.38,328.13 L91.89,328.26 L93.39,328.38 L94.90,328.50 L96.41,328.63 L97.91,328.75 L99.42,328.87 L100.92,329.00 L102.43,329.12 L103.94,329.24 L105.44,329.37 L106.95,329.49 L108.45,329.62 L109.96,329.74 L111.47,329.87 L112.97,329.99 L114.48,330.12 L115.98,330.24 L117.49,330.37 L118.99,330.50 L120.50,330.62 L122.00,330.75 L123.51,330.88 L125.02,331.00 L126.52,331.13 L128.03,331.26 L129.53,331.39 L131.03,331.51 L132.54,331.64 L134.04,331.77 L135.55,331.90 L137.05,332.03 L138.56,332.16 L140.06,332.29 L141.57,332.42 L143.07,332.55 L144.58,332.69 L146.08,332.82 L147.58,332.95 L149.09,333.08 L150.59,333.21 L152.10,333.35 L153.60,333.48 L155.10,333.62 L156.61,333.75 L158.11,333.89 L159.61,334.02 L161.12,334.16 L162.62,334.29 L164.12,334.43 L165.63,334.57 L167.13,334.70 L168.63,334.84 L170.14,334.98 L171.64,335.12 L173.14,335.26 L174.65,335.40 L176.15,335.54 L177.65,335.68 L179.16,335.82 L180.66,335.96 L182.16,336.11 L183.66,336.25 L185.17,336.39 L186.67,336.54 L188.17,336.68 L189.67,336.83 L191.18,336.97 L192.68,337.12 L194.18,337.27 L195.68,337.41 L197.18,337.56 L198.69,337.71 L200.19,337.86 L201.69,338.01 L203.19,338.16 L204.69,338.31 L206.20,338.46 L207.70,338.61 L209.20,338.77 L210.70,338.92 L212.20,339.07 L213.70,339.23 L215.21,339.38 L216.71,339.54 L218.21,339.70 L219.71,339.85 L221.21,340.01 L222.71,340.17 L224.21,340.33 L225.71,340.49 L227.21,340.65 L228.72,340.81 L230.22,340.98 L231.72,341.14 L233.22,341.30 L234.72,341.47 L236.22,341.63 L237.72,341.80 L239.22,341.96 L240.72,342.13 L242.22,342.30 L243.72,342.47 L245.22,342.64 L246.72,342.81 L248.22,342.98 L249.72,343.15 L251.22,343.33 L252.72,343.50 L254.22,343.68 L255.72,343.85 L257.22,344.03 L258.72,344.20 L260.22,344.38 L261.72,344.56 L263.22,344.74 L264.72,344.92 L266.22,345.10 L267.72,345.28 L269.22,345.46 L270.72,345.65 L272.22,345.83 L273.72,346.01 L275.22,346.19 L276.72,346.37 L278.22,346.55 L279.72,346.73 L281.23,346.91 L282.73,347.09 L284.23,347.27 L285.73,347.45 L287.23,347.62 L288.73,347.80 L290.23,347.97 L291.74,348.14 L293.24,348.32 L294.74,348.49 L296.25,348.65 L297.75,348.82 L299.25,348.98 L300.76,349.15 L302.26,349.31 L303.77,349.46 L305.28,349.62 L306.78,349.77 L308.29,349.92 L309.80,350.07 L311.30,350.22 L312.81,350.36 L314.32,350.50 L315.83,350.63 L317.34,350.77 L318.85,350.90 L320.36,351.02 L321.88,351.15 L323.39,351.26 L324.90,351.38 L326.42,351.49 L327.93,351.60 L329.45,351.70 L330.96,351.80 L332.48,351.90 L334.00,351.99 L335.52,352.07 L337.03,352.15 L338.55,352.23 L340.08,352.30 L341.60,352.37 L343.12,352.43 L344.64,352.48 L346.16,352.53 L347.69,352.57 L349.21,352.60 L350.73,352.62 L352.25,352.63 L353.77,352.62 L355.29,352.61 L356.80,352.58 L358.31,352.53 L359.82,352.47 L361.33,352.40 L362.83,352.30 L364.34,352.19 L365.83,352.06 L367.33,351.91 L368.81,351.74 L370.30,351.55 L371.78,351.34 L373.25,351.10 L374.72,350.85 L376.19,350.57 L377.65,350.27 L379.10,349.95 L380.55,349.61 L382.00,349.25 L383.44,348.87 L384.88,348.47 L386.31,348.05 L387.73,347.62 L389.15,347.16 L390.57,346.69 L391.97,346.20 L393.38,345.69 L394.78,345.16 L396.17,344.62 L397.56,344.06 L398.94,343.48 L400.32,342.89 L401.69,342.29 L403.06,341.66 L404.42,341.03 L405.78,340.37 L407.13,339.71 L408.47,339.02 L409.81,338.33 L411.14,337.62 L412.47,336.90 L413.79,336.16 L415.11,335.42 L416.42,334.66 L417.72,333.89 L419.02,333.10 L420.31,332.31 L421.60,331.50 L422.88,330.69 L424.15,329.86 L425.42,329.02 L426.69,328.18 L427.94,327.32 L429.19,326.46 L430.44,325.58 L431.68,324.70 L432.91,323.81 L434.14,322.91 L435.36,322.01 L436.58,321.11 L437.79,320.20 L439.00,319.29 L440.21,318.37 L441.41,317.46 L442.61,316.54 L443.81,315.63 L445.01,314.71 L446.20,313.80 L447.39,312.90 L448.58,311.99 L449.77,311.09 L450.96,310.20 L452.15,309.32 L453.34,308.44" fill="none" stroke="#F5444A" stroke-width="1.8" stroke-dasharray="6.2 6.2" stroke-linejoin="round"/>
<path d="M72.26,315.79 L73.78,315.83 L75.30,315.87 L76.82,315.91 L78.34,315.96 L79.86,316.00 L81.38,316.05 L82.90,316.10 L84.42,316.15 L85.93,316.20 L87.45,316.25 L88.96,316.31 L90.48,316.37 L91.99,316.43 L93.51,316.49 L95.02,316.55 L96.53,316.62 L98.05,316.68 L99.56,316.75 L101.07,316.82 L102.58,316.89 L104.09,316.97 L105.60,317.04 L107.11,317.12 L108.62,317.20 L110.13,317.28 L111.64,317.36 L113.14,317.44 L114.65,317.53 L116.16,317.61 L117.67,317.70 L119.17,317.79 L120.68,317.88 L122.18,317.97 L123.69,318.07 L125.20,318.16 L126.70,318.26 L128.20,318.36 L129.71,318.46 L131.21,318.56 L132.72,318.66 L134.22,318.77 L135.72,318.87 L137.23,318.98 L138.73,319.09 L140.23,319.20 L141.73,319.31 L143.23,319.42 L144.74,319.53 L146.24,319.65 L147.74,319.77 L149.24,319.88 L150.74,320.00 L152.24,320.12 L153.74,320.24 L155.24,320.36 L156.74,320.49 L158.24,320.61 L159.74,320.74 L161.24,320.87 L162.74,321.00 L164.24,321.12 L165.74,321.26 L167.24,321.39 L168.74,321.52 L170.23,321.65 L171.73,321.79 L173.23,321.93 L174.73,322.06 L176.23,322.20 L177.73,322.34 L179.23,322.48 L180.73,322.62 L182.22,322.76 L183.72,322.91 L185.22,323.05 L186.72,323.20 L188.22,323.34 L189.72,323.49 L191.21,323.64 L192.71,323.79 L194.21,323.94 L195.71,324.09 L197.21,324.24 L198.71,324.39 L200.21,324.54 L201.71,324.70 L203.21,324.85 L204.70,325.01 L206.20,325.16 L207.70,325.32 L209.20,325.48 L210.70,325.64 L212.20,325.80 L213.70,325.96 L215.20,326.12 L216.70,326.28 L218.20,326.44 L219.70,326.60 L221.21,326.77 L222.71,326.93 L224.21,327.10 L225.71,327.26 L227.21,327.43 L228.71,327.59 L230.21,327.76 L231.72,327.93 L233.22,328.10 L234.72,328.27 L236.23,328.43 L237.73,328.60 L239.23,328.77 L240.74,328.95 L242.24,329.12 L243.75,329.29 L245.25,329.46 L246.76,329.63 L248.26,329.81 L249.77,329.98 L251.28,330.15 L252.78,330.33 L254.29,330.50 L255.80,330.68 L257.31,330.85 L258.81,331.03 L260.32,331.20 L261.83,331.38 L263.34,331.55 L264.85,331.73 L266.36,331.91 L267.87,332.09 L269.38,332.27 L270.89,332.45 L272.40,332.63 L273.91,332.81 L275.42,333.00 L276.93,333.19 L278.44,333.38 L279.95,333.57 L281.46,333.76 L282.96,333.96 L284.47,334.16 L285.98,334.36 L287.48,334.56 L288.99,334.77 L290.49,334.98 L291.99,335.19 L293.50,335.40 L295.00,335.62 L296.50,335.85 L297.99,336.07 L299.49,336.30 L300.99,336.54 L302.48,336.78 L303.97,337.02 L305.46,337.27 L306.95,337.52 L308.44,337.78 L309.92,338.04 L311.41,338.31 L312.89,338.58 L314.37,338.86 L315.85,339.14 L317.32,339.43 L318.79,339.72 L320.27,340.02 L321.73,340.33 L323.20,340.64 L324.66,340.96 L326.12,341.28 L327.58,341.61 L329.04,341.95 L330.49,342.30 L331.94,342.65 L333.39,343.01 L334.83,343.38 L336.27,343.75 L337.71,344.13 L339.15,344.52 L340.58,344.92 L342.01,345.32 L343.43,345.74 L344.86,346.16 L346.28,346.58 L347.70,347.02 L349.11,347.46 L350.53,347.91 L351.95,348.36 L353.36,348.82 L354.78,349.29 L356.19,349.76 L357.61,350.23 L359.02,350.71 L360.44,351.20 L361.86,351.69 L363.28,352.19 L364.70,352.69 L366.12,353.20 L367.55,353.70 L368.98,354.22 L370.41,354.73 L371.85,355.25 L373.29,355.77 L374.74,356.30 L376.18,356.83 L377.64,357.36 L379.10,357.89 L380.56,358.42 L382.03,358.96 L383.51,359.49 L384.99,360.02 L386.47,360.54 L387.96,361.05 L389.45,361.55 L390.94,362.03 L392.43,362.50 L393.93,362.95 L395.42,363.37 L396.92,363.76 L398.41,364.13 L399.91,364.46 L401.40,364.77 L402.89,365.03 L404.38,365.25 L405.86,365.44 L407.34,365.57 L408.82,365.66 L410.29,365.70 L411.76,365.69 L413.22,365.61 L414.67,365.49 L416.12,365.30 L417.56,365.04 L418.99,364.73 L420.40,364.35 L421.80,363.92 L423.18,363.43 L424.53,362.87 L425.87,362.26 L427.17,361.60 L428.45,360.87 L429.69,360.09 L430.90,359.26 L432.07,358.37 L433.20,357.42 L434.29,356.43 L435.34,355.38 L436.34,354.28 L437.30,353.14 L438.21,351.95 L439.09,350.72 L439.92,349.45 L440.72,348.15 L441.48,346.82 L442.21,345.45 L442.90,344.06 L443.57,342.64 L444.20,341.21 L444.80,339.75 L445.37,338.28 L445.92,336.80 L446.44,335.31 L446.93,333.81 L447.40,332.31 L447.86,330.81 L448.29,329.31 L448.70,327.81 L449.10,326.32 L449.49,324.83 L449.87,323.35 L450.24,321.88 L450.60,320.42 L450.97,318.98 L451.33,317.54 L451.70,316.13 L452.07,314.73 L452.45,313.35 L452.84,311.99 L453.25,310.65 L453.67,309.33" fill="none" stroke="#1A8CF0" stroke-width="1.8" stroke-dasharray="6.2 6.2" stroke-linejoin="round"/>
<path d="M72.28,311.53 L73.80,311.58 L75.31,311.63 L76.82,311.67 L78.33,311.72 L79.84,311.77 L81.35,311.81 L82.86,311.86 L84.37,311.90 L85.88,311.95 L87.40,311.99 L88.91,312.03 L90.42,312.07 L91.93,312.12 L93.44,312.16 L94.95,312.20 L96.45,312.23 L97.96,312.27 L99.47,312.31 L100.98,312.35 L102.49,312.38 L104.00,312.42 L105.51,312.45 L107.02,312.49 L108.53,312.52 L110.03,312.56 L111.54,312.59 L113.05,312.62 L114.56,312.66 L116.07,312.69 L117.57,312.72 L119.08,312.75 L120.59,312.78 L122.10,312.81 L123.60,312.84 L125.11,312.87 L126.62,312.90 L128.12,312.93 L129.63,312.96 L131.14,312.99 L132.64,313.02 L134.15,313.05 L135.66,313.07 L137.16,313.10 L138.67,313.13 L140.18,313.16 L141.68,313.19 L143.19,313.21 L144.69,313.24 L146.20,313.27 L147.70,313.30 L149.21,313.32 L150.71,313.35 L152.22,313.38 L153.72,313.41 L155.23,313.43 L156.73,313.46 L158.24,313.49 L159.74,313.52 L161.25,313.54 L162.75,313.57 L164.26,313.60 L165.76,313.63 L167.27,313.66 L168.77,313.69 L170.28,313.71 L171.78,313.74 L173.28,313.77 L174.79,313.80 L176.29,313.83 L177.80,313.86 L179.30,313.89 L180.80,313.92 L182.31,313.96 L183.81,313.99 L185.31,314.02 L186.82,314.05 L188.32,314.09 L189.83,314.12 L191.33,314.15 L192.83,314.19 L194.34,314.22 L195.84,314.26 L197.34,314.29 L198.85,314.33 L200.35,314.37 L201.85,314.41 L203.35,314.44 L204.86,314.48 L206.36,314.52 L207.86,314.56 L209.37,314.61 L210.87,314.65 L212.37,314.69 L213.88,314.73 L215.38,314.78 L216.88,314.82 L218.38,314.87 L219.89,314.91 L221.39,314.96 L222.89,315.01 L224.40,315.06 L225.90,315.11 L227.40,315.16 L228.90,315.21 L230.41,315.26 L231.91,315.32 L233.41,315.37 L234.92,315.43 L236.42,315.48 L237.92,315.54 L239.42,315.60 L240.93,315.66 L242.43,315.72 L243.93,315.78 L245.43,315.85 L246.94,315.91 L248.44,315.98 L249.94,316.04 L251.45,316.11 L252.95,316.18 L254.45,316.25 L255.95,316.32 L257.46,316.39 L258.96,316.47 L260.46,316.54 L261.97,316.62 L263.47,316.70 L264.97,316.78 L266.48,316.86 L267.98,316.94 L269.48,317.02 L270.99,317.11 L272.49,317.19 L273.99,317.28 L275.49,317.37 L277.00,317.46 L278.50,317.55 L280.01,317.65 L281.51,317.74 L283.01,317.84 L284.52,317.94 L286.02,318.04 L287.52,318.14 L289.03,318.24 L290.53,318.35 L292.03,318.46 L293.54,318.56 L295.04,318.67 L296.55,318.79 L298.05,318.90 L299.56,319.02 L301.06,319.13 L302.56,319.25 L304.07,319.37 L305.57,319.50 L307.08,319.62 L308.58,319.75 L310.09,319.87 L311.59,320.00 L313.10,320.14 L314.60,320.27 L316.11,320.41 L317.61,320.54 L319.12,320.68 L320.62,320.83 L322.13,320.97 L323.63,321.12 L325.14,321.26 L326.64,321.41 L328.15,321.57 L329.66,321.72 L331.16,321.88 L332.67,322.04 L334.17,322.20 L335.68,322.36 L337.19,322.53 L338.69,322.69 L340.20,322.86 L341.71,323.03 L343.21,323.21 L344.72,323.38 L346.23,323.56 L347.73,323.74 L349.24,323.91 L350.75,324.09 L352.25,324.26 L353.76,324.43 L355.27,324.60 L356.77,324.77 L358.28,324.94 L359.78,325.10 L361.29,325.26 L362.79,325.41 L364.30,325.56 L365.80,325.71 L367.31,325.85 L368.81,325.98 L370.31,326.10 L371.81,326.22 L373.32,326.33 L374.82,326.44 L376.32,326.53 L377.82,326.62 L379.32,326.69 L380.81,326.76 L382.31,326.82 L383.81,326.86 L385.30,326.90 L386.80,326.92 L388.29,326.93 L389.78,326.93 L391.28,326.91 L392.77,326.88 L394.26,326.84 L395.75,326.78 L397.23,326.71 L398.72,326.62 L400.21,326.52 L401.69,326.39 L403.17,326.26 L404.66,326.10 L406.14,325.93 L407.62,325.74 L409.09,325.53 L410.57,325.30 L412.04,325.06 L413.52,324.79 L414.99,324.50 L416.46,324.19 L417.93,323.86 L419.39,323.50 L420.84,323.12 L422.29,322.71 L423.73,322.27 L425.15,321.80 L426.56,321.30 L427.96,320.76 L429.34,320.19 L430.69,319.58 L432.03,318.93 L433.35,318.24 L434.64,317.51 L435.90,316.74 L437.14,315.92 L438.35,315.05 L439.52,314.14 L440.67,313.17 L441.78,312.15 L442.85,311.08 L443.89,309.97 L444.89,308.81 L445.87,307.62 L446.82,306.40 L447.74,305.15 L448.64,303.89 L449.52,302.61 L450.37,301.33 L451.21,300.05 L452.03,298.78 L452.84,297.51 L453.63,296.26" fill="none" stroke="#12C08A" stroke-width="1.8" stroke-dasharray="6.2 6.2" stroke-linejoin="round"/>
<path d="M72.24,310.76 L73.76,310.77 L75.28,310.78 L76.80,310.79 L78.31,310.80 L79.83,310.81 L81.35,310.82 L82.87,310.83 L84.38,310.83 L85.90,310.84 L87.42,310.85 L88.93,310.85 L90.45,310.86 L91.96,310.86 L93.48,310.87 L95.00,310.87 L96.51,310.87 L98.02,310.88 L99.54,310.88 L101.05,310.88 L102.57,310.88 L104.08,310.88 L105.59,310.89 L107.11,310.89 L108.62,310.89 L110.13,310.89 L111.65,310.89 L113.16,310.89 L114.67,310.89 L116.18,310.89 L117.69,310.89 L119.20,310.89 L120.72,310.89 L122.23,310.89 L123.74,310.89 L125.25,310.89 L126.76,310.89 L128.27,310.89 L129.78,310.89 L131.29,310.89 L132.80,310.89 L134.30,310.89 L135.81,310.89 L137.32,310.89 L138.83,310.89 L140.34,310.89 L141.85,310.89 L143.36,310.89 L144.86,310.89 L146.37,310.89 L147.88,310.89 L149.38,310.90 L150.89,310.90 L152.40,310.90 L153.91,310.90 L155.41,310.91 L156.92,310.91 L158.42,310.92 L159.93,310.92 L161.44,310.93 L162.94,310.93 L164.45,310.94 L165.95,310.95 L167.46,310.95 L168.96,310.96 L170.47,310.97 L171.97,310.98 L173.48,310.99 L174.98,311.00 L176.48,311.01 L177.99,311.02 L179.49,311.04 L181.00,311.05 L182.50,311.07 L184.00,311.08 L185.51,311.10 L187.01,311.11 L188.51,311.13 L190.02,311.15 L191.52,311.17 L193.02,311.19 L194.52,311.21 L196.03,311.23 L197.53,311.26 L199.03,311.28 L200.53,311.31 L202.03,311.33 L203.54,311.36 L205.04,311.39 L206.54,311.42 L208.04,311.45 L209.54,311.48 L211.04,311.52 L212.54,311.55 L214.05,311.59 L215.55,311.62 L217.05,311.66 L218.55,311.70 L220.05,311.74 L221.55,311.78 L223.05,311.83 L224.55,311.87 L226.05,311.92 L227.55,311.96 L229.05,312.01 L230.55,312.06 L232.05,312.11 L233.55,312.17 L235.05,312.22 L236.55,312.28 L238.05,312.34 L239.55,312.40 L241.05,312.46 L242.55,312.52 L244.05,312.58 L245.55,312.65 L247.05,312.72 L248.55,312.79 L250.05,312.86 L251.55,312.93 L253.05,313.01 L254.55,313.08 L256.04,313.16 L257.54,313.24 L259.04,313.32 L260.54,313.40 L262.04,313.49 L263.54,313.58 L265.04,313.67 L266.54,313.76 L268.04,313.85 L269.54,313.95 L271.03,314.04 L272.53,314.14 L274.03,314.24 L275.53,314.35 L277.03,314.45 L278.53,314.56 L280.03,314.67 L281.53,314.78 L283.02,314.90 L284.52,315.01 L286.02,315.13 L287.52,315.25 L289.02,315.37 L290.52,315.50 L292.02,315.63 L293.52,315.76 L295.02,315.89 L296.51,316.02 L298.01,316.16 L299.51,316.30 L301.01,316.44 L302.51,316.58 L304.01,316.73 L305.51,316.88 L307.01,317.03 L308.51,317.19 L310.00,317.34 L311.50,317.50 L313.00,317.66 L314.50,317.83 L316.00,318.00 L317.50,318.17 L319.00,318.34 L320.50,318.51 L322.00,318.69 L323.50,318.87 L325.00,319.05 L326.50,319.24 L328.00,319.43 L329.50,319.62 L331.00,319.82 L332.50,320.01 L334.00,320.21 L335.50,320.42 L337.00,320.62 L338.50,320.83 L340.00,321.04 L341.50,321.26 L343.00,321.48 L344.50,321.70 L346.00,321.92 L347.50,322.15 L349.00,322.38 L350.50,322.61 L352.00,322.85 L353.50,323.09 L355.00,323.33 L356.50,323.58 L358.00,323.83 L359.51,324.08 L361.01,324.33 L362.51,324.59 L364.01,324.86 L365.51,325.12 L367.01,325.39 L368.52,325.66 L370.02,325.94 L371.52,326.22 L373.02,326.50 L374.52,326.79 L376.03,327.08 L377.53,327.37 L379.03,327.66 L380.54,327.96 L382.04,328.27 L383.54,328.57 L385.04,328.88 L386.55,329.18 L388.05,329.48 L389.55,329.78 L391.05,330.08 L392.55,330.36 L394.05,330.64 L395.54,330.91 L397.04,331.17 L398.53,331.42 L400.02,331.66 L401.51,331.88 L403.00,332.08 L404.48,332.27 L405.97,332.43 L407.45,332.58 L408.92,332.70 L410.40,332.81 L411.87,332.88 L413.34,332.93 L414.80,332.96 L416.26,332.95 L417.72,332.92 L419.17,332.85 L420.62,332.76 L422.06,332.62 L423.50,332.45 L424.94,332.25 L426.37,332.00 L427.79,331.72 L429.21,331.40 L430.63,331.03 L432.03,330.62 L433.43,330.16 L434.80,329.66 L436.16,329.10 L437.50,328.50 L438.82,327.84 L440.10,327.14 L441.36,326.37 L442.58,325.55 L443.76,324.67 L444.91,323.74 L446.01,322.74 L447.07,321.67 L448.07,320.55 L449.03,319.36 L449.92,318.10 L450.76,316.77 L451.54,315.37 L452.25,313.90 L452.90,312.35 L453.47,310.73 L453.97,309.04" fill="none" stroke="#EE7BEE" stroke-width="1.8" stroke-dasharray="6.2 6.2" stroke-linejoin="round"/>
<path d="M72.31,311.65 L73.82,311.62 L75.33,311.58 L76.84,311.55 L78.34,311.52 L79.85,311.49 L81.36,311.47 L82.87,311.44 L84.38,311.42 L85.88,311.40 L87.39,311.38 L88.90,311.36 L90.41,311.34 L91.91,311.33 L93.42,311.31 L94.93,311.30 L96.44,311.29 L97.95,311.28 L99.45,311.27 L100.96,311.26 L102.47,311.25 L103.98,311.25 L105.49,311.24 L107.00,311.24 L108.50,311.24 L110.01,311.24 L111.52,311.24 L113.03,311.24 L114.54,311.25 L116.05,311.25 L117.55,311.26 L119.06,311.26 L120.57,311.27 L122.08,311.28 L123.59,311.29 L125.10,311.30 L126.61,311.31 L128.11,311.32 L129.62,311.34 L131.13,311.35 L132.64,311.37 L134.15,311.39 L135.66,311.40 L137.17,311.42 L138.68,311.44 L140.18,311.46 L141.69,311.48 L143.20,311.51 L144.71,311.53 L146.22,311.55 L147.73,311.58 L149.24,311.60 L150.75,311.63 L152.26,311.66 L153.76,311.68 L155.27,311.71 L156.78,311.74 L158.29,311.77 L159.80,311.80 L161.31,311.83 L162.82,311.87 L164.33,311.90 L165.84,311.93 L167.35,311.96 L168.86,312.00 L170.37,312.03 L171.87,312.07 L173.38,312.10 L174.89,312.14 L176.40,312.18 L177.91,312.21 L179.42,312.25 L180.93,312.29 L182.44,312.33 L183.95,312.37 L185.46,312.41 L186.97,312.44 L188.48,312.48 L189.99,312.52 L191.50,312.57 L193.01,312.61 L194.51,312.65 L196.02,312.69 L197.53,312.73 L199.04,312.77 L200.55,312.81 L202.06,312.86 L203.57,312.90 L205.08,312.94 L206.59,312.98 L208.10,313.03 L209.61,313.07 L211.12,313.11 L212.63,313.16 L214.14,313.20 L215.65,313.24 L217.16,313.28 L218.67,313.33 L220.17,313.37 L221.68,313.41 L223.19,313.46 L224.70,313.50 L226.21,313.54 L227.72,313.59 L229.23,313.63 L230.74,313.67 L232.25,313.71 L233.76,313.76 L235.27,313.80 L236.78,313.84 L238.29,313.88 L239.80,313.92 L241.31,313.97 L242.82,314.01 L244.32,314.05 L245.83,314.09 L247.34,314.13 L248.85,314.17 L250.36,314.21 L251.87,314.25 L253.38,314.29 L254.89,314.32 L256.40,314.36 L257.91,314.40 L259.42,314.44 L260.93,314.47 L262.44,314.51 L263.95,314.55 L265.45,314.58 L266.96,314.61 L268.47,314.65 L269.98,314.68 L271.49,314.72 L273.00,314.75 L274.51,314.78 L276.02,314.81 L277.53,314.84 L279.04,314.87 L280.54,314.90 L282.05,314.93 L283.56,314.96 L285.07,314.98 L286.58,315.01 L288.09,315.03 L289.60,315.06 L291.11,315.08 L292.62,315.11 L294.12,315.13 L295.63,315.15 L297.14,315.17 L298.65,315.19 L300.16,315.21 L301.67,315.23 L303.18,315.24 L304.69,315.26 L306.19,315.27 L307.70,315.29 L309.21,315.30 L310.72,315.31 L312.23,315.32 L313.74,315.33 L315.24,315.34 L316.75,315.35 L318.26,315.36 L319.77,315.36 L321.28,315.37 L322.79,315.37 L324.29,315.37 L325.80,315.37 L327.31,315.37 L328.82,315.37 L330.33,315.37 L331.83,315.37 L333.34,315.36 L334.85,315.35 L336.36,315.35 L337.87,315.34 L339.37,315.33 L340.88,315.31 L342.39,315.30 L343.90,315.29 L345.41,315.27 L346.91,315.25 L348.42,315.23 L349.93,315.21 L351.44,315.19 L352.94,315.17 L354.45,315.14 L355.96,315.12 L357.47,315.09 L358.97,315.06 L360.48,315.03 L361.99,315.00 L363.49,314.96 L365.00,314.93 L366.51,314.89 L368.02,314.85 L369.52,314.81 L371.03,314.77 L372.54,314.72 L374.04,314.68 L375.55,314.63 L377.06,314.58 L378.56,314.53 L380.07,314.48 L381.58,314.42 L383.08,314.37 L384.59,314.31 L386.10,314.25 L387.60,314.19 L389.11,314.12 L390.61,314.06 L392.12,313.99 L393.63,313.92 L395.13,313.85 L396.64,313.77 L398.15,313.70 L399.65,313.62 L401.16,313.54 L402.66,313.46 L404.17,313.38 L405.67,313.29 L407.18,313.20 L408.69,313.11 L410.19,313.02 L411.70,312.93 L413.20,312.83 L414.71,312.73 L416.21,312.63 L417.72,312.53 L419.22,312.42 L420.73,312.31 L422.23,312.21 L423.74,312.09 L425.24,311.98 L426.75,311.86 L428.25,311.74 L429.76,311.62 L431.26,311.50 L432.77,311.37 L434.27,311.24 L435.78,311.11 L437.28,310.98 L438.78,310.84 L440.29,310.71 L441.79,310.57 L443.30,310.42 L444.80,310.28 L446.30,310.13 L447.81,309.98 L449.31,309.83 L450.82,309.67 L452.32,309.51 L453.82,309.35" fill="none" stroke="#FFA300" stroke-width="1.8" stroke-dasharray="6.2 6.2" stroke-linejoin="round"/>
<path d="M72.31,306.81 L73.81,306.79 L75.32,306.78 L76.83,306.76 L78.34,306.75 L79.84,306.73 L81.35,306.72 L82.86,306.71 L84.37,306.69 L85.88,306.68 L87.38,306.67 L88.89,306.66 L90.40,306.64 L91.91,306.63 L93.42,306.62 L94.92,306.61 L96.43,306.60 L97.94,306.59 L99.45,306.58 L100.95,306.57 L102.46,306.56 L103.97,306.55 L105.48,306.54 L106.99,306.53 L108.50,306.52 L110.00,306.51 L111.51,306.50 L113.02,306.50 L114.53,306.49 L116.04,306.48 L117.54,306.47 L119.05,306.47 L120.56,306.46 L122.07,306.45 L123.58,306.45 L125.08,306.44 L126.59,306.43 L128.10,306.43 L129.61,306.42 L131.12,306.41 L132.63,306.41 L134.13,306.40 L135.64,306.40 L137.15,306.39 L138.66,306.39 L140.17,306.38 L141.68,306.38 L143.18,306.37 L144.69,306.37 L146.20,306.37 L147.71,306.36 L149.22,306.36 L150.73,306.35 L152.23,306.35 L153.74,306.35 L155.25,306.34 L156.76,306.34 L158.27,306.34 L159.78,306.33 L161.28,306.33 L162.79,306.33 L164.30,306.32 L165.81,306.32 L167.32,306.32 L168.83,306.31 L170.33,306.31 L171.84,306.31 L173.35,306.31 L174.86,306.30 L176.37,306.30 L177.88,306.30 L179.39,306.29 L180.89,306.29 L182.40,306.29 L183.91,306.29 L185.42,306.28 L186.93,306.28 L188.44,306.28 L189.94,306.28 L191.45,306.27 L192.96,306.27 L194.47,306.27 L195.98,306.26 L197.49,306.26 L199.00,306.26 L200.50,306.26 L202.01,306.25 L203.52,306.25 L205.03,306.25 L206.54,306.24 L208.05,306.24 L209.56,306.24 L211.06,306.23 L212.57,306.23 L214.08,306.23 L215.59,306.22 L217.10,306.22 L218.61,306.21 L220.12,306.21 L221.62,306.21 L223.13,306.20 L224.64,306.20 L226.15,306.19 L227.66,306.19 L229.17,306.18 L230.67,306.18 L232.18,306.17 L233.69,306.17 L235.20,306.16 L236.71,306.16 L238.22,306.15 L239.73,306.15 L241.23,306.14 L242.74,306.13 L244.25,306.13 L245.76,306.12 L247.27,306.11 L248.78,306.11 L250.29,306.10 L251.79,306.09 L253.30,306.08 L254.81,306.08 L256.32,306.07 L257.83,306.06 L259.34,306.05 L260.84,306.04 L262.35,306.03 L263.86,306.02 L265.37,306.01 L266.88,306.00 L268.39,305.99 L269.89,305.98 L271.40,305.97 L272.91,305.96 L274.42,305.95 L275.93,305.94 L277.44,305.93 L278.95,305.92 L280.45,305.90 L281.96,305.89 L283.47,305.88 L284.98,305.86 L286.49,305.85 L288.00,305.84 L289.50,305.82 L291.01,305.81 L292.52,305.79 L294.03,305.78 L295.54,305.76 L297.04,305.75 L298.55,305.73 L300.06,305.71 L301.57,305.70 L303.08,305.68 L304.59,305.66 L306.09,305.64 L307.60,305.62 L309.11,305.60 L310.62,305.59 L312.13,305.57 L313.63,305.55 L315.14,305.52 L316.65,305.50 L318.16,305.48 L319.67,305.46 L321.18,305.44 L322.68,305.42 L324.19,305.39 L325.70,305.37 L327.21,305.34 L328.72,305.32 L330.22,305.29 L331.73,305.27 L333.24,305.24 L334.75,305.22 L336.25,305.19 L337.76,305.16 L339.27,305.13 L340.78,305.11 L342.29,305.08 L343.79,305.05 L345.30,305.02 L346.81,304.99 L348.32,304.96 L349.83,304.93 L351.33,304.89 L352.84,304.86 L354.35,304.83 L355.86,304.79 L357.36,304.76 L358.87,304.73 L360.38,304.69 L361.89,304.65 L363.39,304.62 L364.90,304.58 L366.41,304.54 L367.92,304.51 L369.42,304.47 L370.93,304.43 L372.44,304.39 L373.95,304.35 L375.45,304.31 L376.96,304.26 L378.47,304.22 L379.98,304.18 L381.48,304.14 L382.99,304.09 L384.50,304.05 L386.01,304.00 L387.51,303.96 L389.02,303.91 L390.53,303.86 L392.04,303.81 L393.54,303.76 L395.05,303.72 L396.56,303.67 L398.06,303.61 L399.57,303.56 L401.08,303.51 L402.59,303.46 L404.09,303.40 L405.60,303.35 L407.11,303.30 L408.61,303.24 L410.12,303.18 L411.63,303.13 L413.13,303.07 L414.64,303.01 L416.15,302.95 L417.65,302.89 L419.16,302.83 L420.67,302.77 L422.17,302.71 L423.68,302.64 L425.19,302.58 L426.70,302.52 L428.20,302.45 L429.71,302.39 L431.21,302.32 L432.72,302.25 L434.23,302.18 L435.73,302.11 L437.24,302.04 L438.75,301.97 L440.25,301.90 L441.76,301.83 L443.27,301.76 L444.77,301.68 L446.28,301.61 L447.79,301.53 L449.29,301.45 L450.80,301.38 L452.30,301.30 L453.81,301.22" fill="none" stroke="#1AD6DC" stroke-width="1.6" stroke-linejoin="round"/>
<path d="M72.19,303.24 L73.71,303.19 L75.23,303.15 L76.75,303.10 L78.27,303.05 L79.79,303.00 L81.31,302.95 L82.83,302.90 L84.35,302.85 L85.86,302.80 L87.38,302.75 L88.90,302.70 L90.41,302.65 L91.93,302.60 L93.44,302.55 L94.96,302.50 L96.47,302.44 L97.99,302.39 L99.50,302.34 L101.01,302.29 L102.53,302.23 L104.04,302.18 L105.55,302.12 L107.06,302.07 L108.58,302.01 L110.09,301.96 L111.60,301.90 L113.11,301.85 L114.62,301.79 L116.13,301.74 L117.64,301.68 L119.14,301.62 L120.65,301.56 L122.16,301.51 L123.67,301.45 L125.18,301.39 L126.68,301.33 L128.19,301.27 L129.70,301.21 L131.20,301.15 L132.71,301.09 L134.21,301.03 L135.72,300.97 L137.22,300.91 L138.73,300.85 L140.23,300.79 L141.74,300.72 L143.24,300.66 L144.75,300.60 L146.25,300.53 L147.75,300.47 L149.26,300.41 L150.76,300.34 L152.26,300.28 L153.76,300.21 L155.27,300.15 L156.77,300.08 L158.27,300.02 L159.77,299.95 L161.27,299.88 L162.77,299.82 L164.27,299.75 L165.77,299.68 L167.28,299.61 L168.78,299.54 L170.28,299.48 L171.78,299.41 L173.28,299.34 L174.78,299.27 L176.28,299.20 L177.78,299.13 L179.27,299.06 L180.77,298.98 L182.27,298.91 L183.77,298.84 L185.27,298.77 L186.77,298.69 L188.27,298.62 L189.77,298.55 L191.27,298.47 L192.76,298.40 L194.26,298.33 L195.76,298.25 L197.26,298.18 L198.76,298.10 L200.26,298.02 L201.75,297.95 L203.25,297.87 L204.75,297.79 L206.25,297.72 L207.75,297.64 L209.25,297.56 L210.74,297.48 L212.24,297.40 L213.74,297.32 L215.24,297.24 L216.74,297.16 L218.23,297.08 L219.73,297.00 L221.23,296.92 L222.73,296.84 L224.23,296.76 L225.72,296.67 L227.22,296.59 L228.72,296.51 L230.22,296.43 L231.72,296.34 L233.22,296.26 L234.72,296.17 L236.21,296.09 L237.71,296.00 L239.21,295.92 L240.71,295.83 L242.21,295.74 L243.71,295.66 L245.21,295.57 L246.71,295.48 L248.21,295.39 L249.71,295.31 L251.21,295.22 L252.71,295.13 L254.21,295.04 L255.71,294.95 L257.21,294.86 L258.71,294.77 L260.21,294.68 L261.71,294.58 L263.21,294.49 L264.71,294.40 L266.21,294.31 L267.71,294.21 L269.22,294.12 L270.72,294.03 L272.22,293.93 L273.72,293.84 L275.23,293.74 L276.73,293.65 L278.23,293.55 L279.74,293.46 L281.24,293.36 L282.74,293.26 L284.25,293.16 L285.75,293.07 L287.26,292.97 L288.76,292.87 L290.27,292.77 L291.77,292.67 L293.28,292.57 L294.78,292.47 L296.29,292.37 L297.80,292.27 L299.30,292.17 L300.81,292.07 L302.32,291.96 L303.83,291.86 L305.34,291.76 L306.84,291.65 L308.35,291.55 L309.86,291.45 L311.37,291.34 L312.88,291.24 L314.39,291.13 L315.90,291.03 L317.41,290.92 L318.93,290.81 L320.44,290.70 L321.95,290.60 L323.46,290.49 L324.98,290.38 L326.49,290.27 L328.00,290.16 L329.52,290.05 L331.03,289.94 L332.55,289.83 L334.06,289.72 L335.58,289.61 L337.10,289.50 L338.61,289.39 L340.13,289.27 L341.65,289.16 L343.17,289.05 L344.69,288.93 L346.21,288.82 L347.72,288.71 L349.24,288.60 L350.76,288.49 L352.28,288.38 L353.80,288.28 L355.32,288.18 L356.84,288.07 L358.36,287.98 L359.88,287.88 L361.40,287.79 L362.91,287.71 L364.43,287.62 L365.95,287.55 L367.46,287.47 L368.98,287.40 L370.49,287.34 L372.01,287.28 L373.52,287.23 L375.03,287.19 L376.54,287.15 L378.05,287.12 L379.56,287.09 L381.07,287.08 L382.57,287.07 L384.08,287.07 L385.58,287.07 L387.08,287.09 L388.58,287.12 L390.08,287.15 L391.58,287.19 L393.07,287.25 L394.57,287.31 L396.06,287.39 L397.55,287.47 L399.04,287.57 L400.52,287.68 L402.00,287.80 L403.49,287.93 L404.96,288.08 L406.44,288.23 L407.92,288.40 L409.39,288.59 L410.86,288.79 L412.32,289.00 L413.79,289.22 L415.25,289.46 L416.71,289.72 L418.16,289.99 L419.62,290.27 L421.07,290.57 L422.51,290.89 L423.96,291.22 L425.40,291.57 L426.84,291.94 L428.27,292.32 L429.70,292.72 L431.13,293.14 L432.55,293.58 L433.97,294.04 L435.38,294.52 L436.78,295.03 L438.17,295.57 L439.54,296.15 L440.89,296.77 L442.21,297.43 L443.50,298.15 L444.76,298.92 L445.98,299.75 L447.16,300.64 L448.30,301.61 L449.39,302.64 L450.43,303.76 L451.42,304.95 L452.34,306.24 L453.21,307.61 L454.01,309.08" fill="none" stroke="#FFA100" stroke-width="1.6" stroke-linejoin="round"/>
<path d="M72.40,296.83 L73.90,296.79 L75.39,296.76 L76.89,296.72 L78.38,296.69 L79.88,296.65 L81.38,296.61 L82.88,296.57 L84.37,296.53 L85.87,296.48 L87.37,296.44 L88.87,296.39 L90.37,296.35 L91.87,296.30 L93.37,296.25 L94.87,296.20 L96.37,296.15 L97.87,296.09 L99.37,296.04 L100.87,295.99 L102.37,295.93 L103.88,295.87 L105.38,295.82 L106.88,295.76 L108.38,295.70 L109.89,295.64 L111.39,295.58 L112.89,295.52 L114.40,295.45 L115.90,295.39 L117.40,295.33 L118.91,295.26 L120.41,295.20 L121.92,295.13 L123.42,295.06 L124.93,295.00 L126.44,294.93 L127.94,294.86 L129.45,294.79 L130.95,294.72 L132.46,294.65 L133.97,294.58 L135.48,294.51 L136.98,294.44 L138.49,294.37 L140.00,294.29 L141.51,294.22 L143.01,294.15 L144.52,294.07 L146.03,294.00 L147.54,293.93 L149.05,293.85 L150.56,293.78 L152.07,293.70 L153.58,293.63 L155.09,293.55 L156.59,293.48 L158.10,293.40 L159.61,293.33 L161.13,293.25 L162.64,293.18 L164.15,293.10 L165.66,293.03 L167.17,292.95 L168.68,292.88 L170.19,292.80 L171.70,292.73 L173.21,292.65 L174.72,292.58 L176.23,292.50 L177.75,292.43 L179.26,292.35 L180.77,292.28 L182.28,292.21 L183.79,292.13 L185.31,292.06 L186.82,291.99 L188.33,291.92 L189.84,291.84 L191.36,291.77 L192.87,291.70 L194.38,291.63 L195.89,291.56 L197.41,291.49 L198.92,291.43 L200.43,291.36 L201.95,291.29 L203.46,291.22 L204.97,291.16 L206.49,291.09 L208.00,291.03 L209.51,290.96 L211.03,290.90 L212.54,290.84 L214.05,290.77 L215.57,290.71 L217.08,290.65 L218.59,290.59 L220.11,290.54 L221.62,290.48 L223.13,290.42 L224.65,290.37 L226.16,290.31 L227.67,290.26 L229.19,290.20 L230.70,290.15 L232.21,290.10 L233.73,290.05 L235.24,290.01 L236.75,289.96 L238.27,289.91 L239.78,289.87 L241.29,289.82 L242.81,289.78 L244.32,289.74 L245.83,289.70 L247.35,289.66 L248.86,289.63 L250.37,289.59 L251.89,289.56 L253.40,289.52 L254.91,289.49 L256.43,289.46 L257.94,289.43 L259.45,289.41 L260.96,289.38 L262.48,289.36 L263.99,289.34 L265.50,289.32 L267.01,289.30 L268.53,289.28 L270.04,289.26 L271.55,289.25 L273.06,289.24 L274.57,289.23 L276.09,289.22 L277.60,289.21 L279.11,289.21 L280.62,289.21 L282.13,289.20 L283.64,289.20 L285.15,289.21 L286.66,289.21 L288.17,289.22 L289.68,289.23 L291.20,289.24 L292.71,289.25 L294.22,289.27 L295.73,289.28 L297.24,289.30 L298.74,289.32 L300.25,289.35 L301.76,289.37 L303.27,289.40 L304.78,289.43 L306.29,289.46 L307.80,289.49 L309.31,289.53 L310.82,289.57 L312.32,289.61 L313.83,289.66 L315.34,289.70 L316.85,289.75 L318.35,289.80 L319.86,289.86 L321.37,289.91 L322.87,289.97 L324.38,290.03 L325.89,290.09 L327.39,290.16 L328.90,290.23 L330.40,290.30 L331.91,290.38 L333.41,290.45 L334.92,290.53 L336.42,290.61 L337.93,290.70 L339.43,290.79 L340.93,290.88 L342.44,290.97 L343.94,291.07 L345.44,291.17 L346.94,291.27 L348.45,291.38 L349.95,291.48 L351.45,291.60 L352.95,291.71 L354.45,291.83 L355.95,291.95 L357.45,292.07 L358.95,292.20 L360.45,292.33 L361.95,292.47 L363.45,292.60 L364.95,292.74 L366.45,292.89 L367.95,293.04 L369.44,293.19 L370.94,293.34 L372.44,293.50 L373.93,293.66 L375.43,293.83 L376.92,294.00 L378.42,294.17 L379.91,294.35 L381.41,294.53 L382.90,294.71 L384.39,294.90 L385.89,295.09 L387.38,295.29 L388.87,295.49 L390.36,295.69 L391.85,295.90 L393.34,296.11 L394.83,296.33 L396.32,296.55 L397.81,296.77 L399.30,297.00 L400.79,297.24 L402.28,297.47 L403.76,297.71 L405.25,297.96 L406.73,298.21 L408.22,298.47 L409.70,298.73 L411.19,298.99 L412.67,299.26 L414.15,299.53 L415.64,299.81 L417.12,300.09 L418.60,300.38 L420.08,300.67 L421.56,300.97 L423.04,301.27 L424.52,301.58 L426.00,301.89 L427.47,302.20 L428.95,302.53 L430.43,302.85 L431.90,303.18 L433.38,303.52 L434.85,303.86 L436.32,304.21 L437.80,304.56 L439.27,304.92 L440.74,305.28 L442.21,305.65 L443.68,306.02 L445.15,306.40 L446.62,306.78 L448.09,307.17 L449.55,307.56 L451.02,307.96 L452.49,308.37 L453.95,308.78" fill="none" stroke="#EE7BEE" stroke-width="1.6" stroke-linejoin="round"/>
<path d="M72.31,293.33 L73.81,293.26 L75.31,293.20 L76.82,293.13 L78.32,293.06 L79.83,292.99 L81.33,292.92 L82.83,292.85 L84.34,292.78 L85.84,292.71 L87.35,292.64 L88.85,292.57 L90.36,292.50 L91.86,292.43 L93.37,292.36 L94.87,292.29 L96.38,292.22 L97.89,292.15 L99.39,292.08 L100.90,292.00 L102.41,291.93 L103.91,291.86 L105.42,291.79 L106.93,291.72 L108.43,291.65 L109.94,291.58 L111.45,291.51 L112.96,291.44 L114.46,291.36 L115.97,291.29 L117.48,291.22 L118.99,291.16 L120.49,291.09 L122.00,291.02 L123.51,290.95 L125.02,290.88 L126.53,290.81 L128.04,290.75 L129.54,290.68 L131.05,290.61 L132.56,290.55 L134.07,290.48 L135.58,290.42 L137.09,290.35 L138.60,290.29 L140.11,290.23 L141.62,290.16 L143.13,290.10 L144.64,290.04 L146.14,289.98 L147.65,289.92 L149.16,289.87 L150.67,289.81 L152.18,289.75 L153.69,289.70 L155.20,289.64 L156.71,289.59 L158.22,289.54 L159.73,289.49 L161.24,289.43 L162.75,289.39 L164.26,289.34 L165.77,289.29 L167.28,289.24 L168.79,289.20 L170.30,289.16 L171.81,289.11 L173.32,289.07 L174.83,289.03 L176.34,288.99 L177.85,288.96 L179.36,288.92 L180.87,288.89 L182.38,288.85 L183.89,288.82 L185.40,288.79 L186.91,288.76 L188.42,288.74 L189.93,288.71 L191.44,288.69 L192.95,288.67 L194.46,288.65 L195.97,288.63 L197.48,288.61 L198.98,288.59 L200.49,288.58 L202.00,288.57 L203.51,288.56 L205.02,288.55 L206.53,288.54 L208.04,288.54 L209.55,288.54 L211.06,288.54 L212.57,288.54 L214.07,288.54 L215.58,288.55 L217.09,288.55 L218.60,288.56 L220.11,288.58 L221.61,288.59 L223.12,288.61 L224.63,288.62 L226.14,288.64 L227.65,288.67 L229.15,288.69 L230.66,288.72 L232.17,288.75 L233.67,288.78 L235.18,288.81 L236.69,288.85 L238.20,288.89 L239.70,288.93 L241.21,288.97 L242.71,289.02 L244.22,289.07 L245.73,289.12 L247.23,289.18 L248.74,289.23 L250.24,289.29 L251.75,289.35 L253.25,289.42 L254.76,289.49 L256.26,289.56 L257.77,289.63 L259.27,289.70 L260.78,289.78 L262.28,289.87 L263.78,289.95 L265.29,290.04 L266.79,290.13 L268.29,290.22 L269.80,290.32 L271.30,290.42 L272.80,290.53 L274.30,290.64 L275.81,290.76 L277.31,290.88 L278.81,291.00 L280.31,291.14 L281.81,291.27 L283.31,291.42 L284.82,291.57 L286.32,291.73 L287.82,291.89 L289.32,292.06 L290.82,292.24 L292.32,292.43 L293.82,292.62 L295.32,292.83 L296.82,293.04 L298.33,293.26 L299.83,293.49 L301.33,293.72 L302.83,293.97 L304.33,294.23 L305.83,294.50 L307.32,294.77 L308.82,295.06 L310.32,295.36 L311.81,295.66 L313.30,295.98 L314.79,296.31 L316.27,296.65 L317.76,296.99 L319.23,297.35 L320.71,297.72 L322.18,298.10 L323.65,298.50 L325.11,298.90 L326.57,299.31 L328.03,299.74 L329.47,300.18 L330.92,300.62 L332.35,301.08 L333.79,301.56 L335.21,302.04 L336.63,302.54 L338.04,303.04 L339.44,303.56 L340.84,304.10 L342.23,304.64 L343.61,305.20 L344.99,305.77 L346.36,306.35 L347.72,306.94 L349.08,307.54 L350.44,308.15 L351.78,308.78 L353.13,309.41 L354.47,310.05 L355.80,310.70 L357.14,311.36 L358.46,312.03 L359.79,312.71 L361.11,313.39 L362.43,314.09 L363.75,314.79 L365.07,315.50 L366.39,316.21 L367.71,316.94 L369.02,317.67 L370.34,318.40 L371.65,319.14 L372.97,319.89 L374.29,320.64 L375.60,321.40 L376.92,322.16 L378.25,322.93 L379.57,323.70 L380.90,324.47 L382.23,325.25 L383.56,326.02 L384.89,326.80 L386.23,327.58 L387.57,328.36 L388.92,329.13 L390.27,329.90 L391.62,330.66 L392.97,331.42 L394.33,332.17 L395.69,332.91 L397.05,333.64 L398.42,334.36 L399.79,335.06 L401.16,335.75 L402.54,336.43 L403.92,337.09 L405.31,337.73 L406.70,338.36 L408.09,338.96 L409.49,339.54 L410.89,340.10 L412.29,340.64 L413.70,341.15 L415.11,341.64 L416.53,342.10 L417.95,342.53 L419.38,342.93 L420.81,343.31 L422.24,343.64 L423.68,343.95 L425.12,344.22 L426.57,344.46 L428.02,344.66 L429.47,344.82 L430.92,344.91 L432.34,344.93 L433.74,344.85 L435.08,344.64 L436.37,344.30 L437.59,343.80 L438.74,343.12 L439.81,342.29 L440.81,341.32 L441.75,340.23 L442.64,339.04 L443.47,337.78 L444.25,336.46 L444.98,335.10 L445.68,333.72 L446.34,332.30 L446.97,330.87 L447.55,329.42 L448.11,327.94 L448.63,326.46 L449.12,324.95 L449.57,323.44 L450.00,321.92 L450.40,320.39 L450.78,318.86 L451.12,317.32 L451.45,315.78 L451.75,314.25 L452.03,312.72 L452.29,311.20 L452.53,309.69 L452.75,308.19 L452.96,306.70 L453.15,305.22 L453.33,303.77 L453.49,302.34 L453.64,300.93 L453.79,299.54 L453.92,298.18" fill="none" stroke="#12C08A" stroke-width="1.6" stroke-linejoin="round"/>
<path d="M72.30,301.82 L73.80,301.65 L75.29,301.49 L76.79,301.33 L78.28,301.17 L79.78,301.01 L81.27,300.86 L82.77,300.71 L84.27,300.56 L85.76,300.41 L87.26,300.26 L88.76,300.12 L90.26,299.98 L91.76,299.84 L93.26,299.70 L94.76,299.56 L96.26,299.43 L97.77,299.29 L99.27,299.16 L100.77,299.03 L102.28,298.90 L103.78,298.78 L105.28,298.65 L106.79,298.53 L108.29,298.40 L109.80,298.28 L111.30,298.16 L112.81,298.04 L114.31,297.93 L115.82,297.81 L117.33,297.69 L118.84,297.58 L120.34,297.46 L121.85,297.35 L123.36,297.24 L124.87,297.12 L126.37,297.01 L127.88,296.90 L129.39,296.79 L130.90,296.68 L132.41,296.57 L133.92,296.47 L135.43,296.36 L136.94,296.25 L138.45,296.14 L139.96,296.04 L141.47,295.93 L142.98,295.82 L144.49,295.71 L146.00,295.61 L147.51,295.50 L149.02,295.39 L150.53,295.29 L152.04,295.18 L153.55,295.07 L155.06,294.96 L156.57,294.85 L158.08,294.75 L159.59,294.64 L161.10,294.53 L162.61,294.42 L164.12,294.31 L165.63,294.19 L167.14,294.08 L168.65,293.97 L170.16,293.86 L171.67,293.74 L173.17,293.63 L174.68,293.51 L176.19,293.39 L177.70,293.27 L179.21,293.15 L180.72,293.03 L182.22,292.91 L183.73,292.79 L185.24,292.66 L186.75,292.54 L188.25,292.41 L189.76,292.28 L191.27,292.15 L192.77,292.02 L194.28,291.88 L195.78,291.75 L197.29,291.61 L198.79,291.47 L200.30,291.33 L201.80,291.19 L203.30,291.04 L204.80,290.90 L206.31,290.75 L207.81,290.60 L209.31,290.44 L210.81,290.29 L212.31,290.13 L213.81,289.97 L215.31,289.81 L216.81,289.65 L218.31,289.48 L219.81,289.31 L221.30,289.14 L222.80,288.96 L224.30,288.78 L225.79,288.60 L227.29,288.42 L228.78,288.24 L230.27,288.05 L231.77,287.86 L233.26,287.66 L234.75,287.46 L236.24,287.26 L237.73,287.06 L239.22,286.85 L240.71,286.64 L242.20,286.43 L243.69,286.21 L245.17,285.99 L246.66,285.77 L248.14,285.54 L249.63,285.31 L251.11,285.08 L252.60,284.84 L254.08,284.60 L255.56,284.35 L257.04,284.10 L258.52,283.85 L260.00,283.59 L261.47,283.33 L262.95,283.07 L264.43,282.80 L265.90,282.52 L267.37,282.25 L268.85,281.97 L270.32,281.68 L271.79,281.39 L273.26,281.10 L274.73,280.80 L276.20,280.49 L277.66,280.19 L279.13,279.87 L280.59,279.56 L282.06,279.23 L283.52,278.91 L284.98,278.58 L286.44,278.24 L287.90,277.90 L289.36,277.55 L290.82,277.20 L292.27,276.85 L293.73,276.48 L295.18,276.12 L296.63,275.75 L298.08,275.37 L299.53,274.99 L300.98,274.60 L302.43,274.21 L303.88,273.81 L305.32,273.41 L306.76,273.00 L308.21,272.58 L309.65,272.16 L311.09,271.73 L312.53,271.30 L313.96,270.86 L315.40,270.42 L316.83,269.97 L318.27,269.51 L319.70,269.05 L321.13,268.58 L322.56,268.11 L323.98,267.63 L325.41,267.14 L326.83,266.65 L328.26,266.15 L329.68,265.65 L331.10,265.13 L332.52,264.62 L333.93,264.09 L335.35,263.56 L336.76,263.02 L338.18,262.48 L339.59,261.93 L341.00,261.37 L342.40,260.80 L343.81,260.23 L345.21,259.65 L346.62,259.06 L348.02,258.47 L349.42,257.87 L350.82,257.26 L352.21,256.65 L353.61,256.03 L355.00,255.40 L356.39,254.76 L357.78,254.12 L359.17,253.46 L360.55,252.81 L361.94,252.14 L363.32,251.46 L364.70,250.78 L366.08,250.09 L367.45,249.40 L368.83,248.69 L370.20,247.98 L371.57,247.26 L372.94,246.53 L374.31,245.79 L375.68,245.04 L377.04,244.29 L378.40,243.53 L379.76,242.76 L381.12,241.98 L382.48,241.20 L383.83,240.41 L385.19,239.62 L386.54,238.84 L387.89,238.06 L389.24,237.29 L390.59,236.54 L391.95,235.81 L393.30,235.09 L394.65,234.40 L396.00,233.74 L397.36,233.12 L398.72,232.52 L400.08,231.97 L401.44,231.46 L402.80,230.99 L404.17,230.57 L405.54,230.21 L406.91,229.90 L408.29,229.65 L409.67,229.46 L411.06,229.34 L412.45,229.29 L413.84,229.32 L415.24,229.42 L416.65,229.60 L418.06,229.86 L419.46,230.20 L420.86,230.62 L422.24,231.11 L423.61,231.67 L424.96,232.30 L426.27,232.99 L427.56,233.75 L428.81,234.57 L430.02,235.46 L431.18,236.39 L432.29,237.39 L433.34,238.43 L434.34,239.53 L435.29,240.68 L436.19,241.86 L437.04,243.10 L437.84,244.37 L438.60,245.67 L439.32,247.02 L440.00,248.39 L440.64,249.79 L441.24,251.22 L441.81,252.68 L442.34,254.15 L442.84,255.64 L443.32,257.15 L443.76,258.67 L444.18,260.21 L444.57,261.75 L444.95,263.29 L445.30,264.84 L445.64,266.39 L445.95,267.93 L446.26,269.47 L446.55,271.01 L446.83,272.53 L447.10,274.04 L447.36,275.53 L447.62,277.01 L447.87,278.48 L448.12,279.94 L448.36,281.39 L448.60,282.83 L448.84,284.26 L449.08,285.69 L449.33,287.12 L449.57,288.54 L449.82,289.97 L450.07,291.39 L450.33,292.82 L450.59,294.26 L450.86,295.69 L451.14,297.14 L451.43,298.59 L451.73,300.06 L452.05,301.53 L452.37,303.02 L452.71,304.53 L453.06,306.05 L453.43,307.59 L453.82,309.14" fill="none" stroke="#646464" stroke-width="1.6" stroke-linejoin="round"/>
<path d="M72.37,298.38 L73.85,298.21 L75.33,298.04 L76.82,297.88 L78.30,297.72 L79.78,297.56 L81.27,297.40 L82.75,297.25 L84.24,297.10 L85.73,296.95 L87.22,296.80 L88.71,296.66 L90.20,296.52 L91.69,296.38 L93.18,296.24 L94.67,296.10 L96.17,295.97 L97.66,295.84 L99.16,295.71 L100.65,295.58 L102.15,295.46 L103.65,295.33 L105.15,295.21 L106.64,295.09 L108.14,294.97 L109.64,294.86 L111.15,294.74 L112.65,294.63 L114.15,294.51 L115.65,294.40 L117.16,294.29 L118.66,294.18 L120.17,294.07 L121.67,293.97 L123.18,293.86 L124.68,293.76 L126.19,293.65 L127.70,293.55 L129.20,293.45 L130.71,293.34 L132.22,293.24 L133.73,293.14 L135.24,293.04 L136.75,292.94 L138.26,292.84 L139.77,292.74 L141.28,292.65 L142.79,292.55 L144.30,292.45 L145.81,292.35 L147.32,292.25 L148.83,292.16 L150.34,292.06 L151.85,291.96 L153.37,291.86 L154.88,291.76 L156.39,291.67 L157.90,291.57 L159.41,291.47 L160.93,291.37 L162.44,291.27 L163.95,291.17 L165.46,291.07 L166.98,290.96 L168.49,290.86 L170.00,290.76 L171.51,290.65 L173.03,290.55 L174.54,290.44 L176.05,290.33 L177.56,290.23 L179.07,290.12 L180.58,290.00 L182.09,289.89 L183.61,289.78 L185.12,289.66 L186.63,289.55 L188.14,289.43 L189.65,289.31 L191.16,289.19 L192.66,289.07 L194.17,288.94 L195.68,288.82 L197.19,288.69 L198.70,288.56 L200.20,288.43 L201.71,288.30 L203.22,288.16 L204.72,288.02 L206.23,287.88 L207.73,287.74 L209.24,287.59 L210.74,287.45 L212.24,287.30 L213.75,287.15 L215.25,286.99 L216.75,286.84 L218.25,286.68 L219.75,286.51 L221.25,286.35 L222.75,286.18 L224.25,286.01 L225.74,285.84 L227.24,285.66 L228.73,285.48 L230.23,285.30 L231.72,285.11 L233.22,284.92 L234.71,284.73 L236.20,284.53 L237.69,284.33 L239.18,284.13 L240.67,283.92 L242.16,283.71 L243.64,283.50 L245.13,283.28 L246.62,283.06 L248.10,282.84 L249.58,282.61 L251.06,282.37 L252.54,282.14 L254.02,281.90 L255.50,281.65 L256.98,281.40 L258.46,281.15 L259.93,280.89 L261.41,280.63 L262.88,280.36 L264.35,280.09 L265.82,279.82 L267.29,279.54 L268.76,279.25 L270.23,278.97 L271.69,278.67 L273.16,278.38 L274.62,278.08 L276.09,277.78 L277.55,277.47 L279.01,277.16 L280.47,276.84 L281.93,276.53 L283.39,276.21 L284.85,275.88 L286.31,275.56 L287.77,275.23 L289.23,274.90 L290.68,274.56 L292.14,274.22 L293.60,273.88 L295.05,273.54 L296.51,273.19 L297.97,272.85 L299.42,272.50 L300.88,272.15 L302.34,271.79 L303.79,271.44 L305.25,271.08 L306.70,270.72 L308.16,270.36 L309.62,270.00 L311.07,269.63 L312.53,269.27 L313.99,268.90 L315.44,268.53 L316.90,268.16 L318.36,267.79 L319.82,267.42 L321.28,267.05 L322.74,266.68 L324.20,266.31 L325.66,265.94 L327.13,265.56 L328.59,265.19 L330.05,264.81 L331.52,264.44 L332.98,264.07 L334.45,263.69 L335.92,263.32 L337.39,262.95 L338.86,262.57 L340.33,262.20 L341.80,261.83 L343.27,261.46 L344.75,261.09 L346.23,260.72 L347.70,260.35 L349.18,259.98 L350.66,259.61 L352.14,259.25 L353.63,258.89 L355.11,258.52 L356.60,258.16 L358.09,257.80 L359.58,257.44 L361.07,257.09 L362.57,256.74 L364.06,256.38 L365.56,256.03 L367.06,255.69 L368.56,255.34 L370.06,255.00 L371.57,254.66 L373.08,254.32 L374.59,253.99 L376.10,253.67 L377.61,253.35 L379.12,253.05 L380.63,252.76 L382.14,252.48 L383.64,252.21 L385.15,251.97 L386.65,251.74 L388.16,251.53 L389.66,251.34 L391.15,251.18 L392.64,251.04 L394.13,250.93 L395.62,250.84 L397.09,250.79 L398.57,250.76 L400.04,250.77 L401.50,250.81 L402.95,250.89 L404.40,251.01 L405.84,251.16 L407.28,251.35 L408.70,251.59 L410.12,251.87 L411.53,252.20 L412.92,252.57 L414.31,252.98 L415.68,253.44 L417.04,253.94 L418.39,254.48 L419.72,255.06 L421.03,255.69 L422.33,256.36 L423.61,257.07 L424.87,257.82 L426.11,258.61 L427.33,259.44 L428.52,260.32 L429.70,261.23 L430.85,262.18 L431.97,263.17 L433.07,264.20 L434.14,265.26 L435.19,266.36 L436.21,267.49 L437.21,268.65 L438.18,269.84 L439.12,271.06 L440.03,272.31 L440.92,273.58 L441.78,274.87 L442.61,276.19 L443.42,277.53 L444.19,278.89 L444.94,280.26 L445.66,281.66 L446.35,283.06 L447.01,284.49 L447.64,285.92 L448.24,287.37 L448.81,288.82 L449.35,290.28 L449.85,291.75 L450.33,293.22 L450.78,294.70 L451.19,296.18 L451.57,297.66 L451.92,299.14 L452.24,300.62 L452.52,302.09 L452.77,303.56 L452.99,305.02 L453.18,306.47 L453.33,307.91 L453.44,309.34" fill="none" stroke="#F5444A" stroke-width="1.6" stroke-linejoin="round"/>
<path d="M72.29,307.32 L73.80,307.28 L75.30,307.23 L76.81,307.18 L78.31,307.13 L79.82,307.08 L81.32,307.04 L82.83,306.99 L84.33,306.94 L85.84,306.90 L87.35,306.85 L88.85,306.80 L90.36,306.76 L91.86,306.71 L93.37,306.66 L94.88,306.61 L96.38,306.57 L97.89,306.52 L99.39,306.47 L100.90,306.42 L102.41,306.37 L103.91,306.32 L105.42,306.28 L106.93,306.23 L108.43,306.18 L109.94,306.13 L111.45,306.07 L112.95,306.02 L114.46,305.97 L115.97,305.92 L117.47,305.87 L118.98,305.81 L120.49,305.76 L121.99,305.70 L123.50,305.65 L125.01,305.59 L126.51,305.53 L128.02,305.47 L129.52,305.41 L131.03,305.35 L132.54,305.29 L134.04,305.23 L135.55,305.17 L137.06,305.10 L138.56,305.04 L140.07,304.97 L141.57,304.91 L143.08,304.84 L144.59,304.77 L146.09,304.70 L147.60,304.63 L149.10,304.55 L150.61,304.48 L152.11,304.40 L153.62,304.32 L155.12,304.25 L156.63,304.17 L158.13,304.08 L159.64,304.00 L161.14,303.92 L162.65,303.83 L164.15,303.74 L165.66,303.65 L167.16,303.56 L168.66,303.47 L170.17,303.37 L171.67,303.28 L173.17,303.18 L174.68,303.08 L176.18,302.98 L177.68,302.87 L179.18,302.77 L180.69,302.66 L182.19,302.55 L183.69,302.44 L185.19,302.33 L186.69,302.21 L188.19,302.09 L189.70,301.97 L191.20,301.85 L192.70,301.73 L194.20,301.60 L195.70,301.47 L197.20,301.34 L198.70,301.21 L200.19,301.07 L201.69,300.94 L203.19,300.80 L204.69,300.65 L206.19,300.51 L207.69,300.36 L209.18,300.21 L210.68,300.06 L212.18,299.90 L213.67,299.74 L215.17,299.58 L216.67,299.42 L218.16,299.25 L219.66,299.08 L221.15,298.91 L222.65,298.74 L224.14,298.56 L225.63,298.38 L227.13,298.20 L228.62,298.01 L230.11,297.82 L231.61,297.63 L233.10,297.43 L234.59,297.24 L236.08,297.04 L237.57,296.83 L239.06,296.62 L240.55,296.41 L242.04,296.20 L243.53,295.98 L245.02,295.76 L246.51,295.54 L248.00,295.31 L249.48,295.08 L250.97,294.84 L252.46,294.61 L253.94,294.36 L255.43,294.12 L256.91,293.87 L258.40,293.62 L259.88,293.36 L261.37,293.10 L262.85,292.84 L264.33,292.58 L265.82,292.30 L267.30,292.03 L268.78,291.75 L270.26,291.47 L271.74,291.18 L273.22,290.88 L274.69,290.58 L276.17,290.28 L277.65,289.96 L279.12,289.64 L280.59,289.32 L282.06,288.99 L283.53,288.65 L285.00,288.30 L286.47,287.94 L287.93,287.58 L289.40,287.20 L290.86,286.82 L292.32,286.43 L293.78,286.03 L295.23,285.62 L296.69,285.20 L298.14,284.77 L299.59,284.33 L301.03,283.88 L302.48,283.42 L303.92,282.94 L305.36,282.46 L306.80,281.96 L308.23,281.46 L309.66,280.95 L311.08,280.42 L312.51,279.89 L313.93,279.35 L315.34,278.80 L316.75,278.24 L318.16,277.67 L319.56,277.09 L320.96,276.51 L322.35,275.91 L323.74,275.31 L325.12,274.70 L326.50,274.09 L327.87,273.46 L329.24,272.83 L330.60,272.19 L331.96,271.55 L333.31,270.90 L334.65,270.24 L335.99,269.58 L337.32,268.91 L338.65,268.23 L339.97,267.55 L341.28,266.86 L342.58,266.17 L343.88,265.47 L345.17,264.77 L346.46,264.06 L347.75,263.34 L349.03,262.62 L350.30,261.90 L351.58,261.17 L352.85,260.43 L354.11,259.69 L355.38,258.94 L356.65,258.19 L357.91,257.43 L359.18,256.66 L360.44,255.89 L361.71,255.12 L362.97,254.34 L364.24,253.55 L365.51,252.76 L366.79,251.96 L368.06,251.15 L369.34,250.34 L370.63,249.52 L371.92,248.70 L373.21,247.87 L374.51,247.04 L375.82,246.20 L377.13,245.35 L378.45,244.50 L379.78,243.64 L381.11,242.78 L382.45,241.92 L383.80,241.05 L385.16,240.19 L386.52,239.34 L387.89,238.50 L389.26,237.67 L390.64,236.87 L392.02,236.08 L393.41,235.32 L394.80,234.59 L396.19,233.89 L397.59,233.22 L398.99,232.60 L400.38,232.01 L401.79,231.47 L403.19,230.98 L404.59,230.55 L405.99,230.17 L407.39,229.85 L408.79,229.59 L410.19,229.39 L411.58,229.27 L412.97,229.22 L414.37,229.25 L415.75,229.35 L417.14,229.54 L418.51,229.81 L419.88,230.16 L421.23,230.59 L422.57,231.09 L423.88,231.66 L425.17,232.30 L426.43,233.01 L427.66,233.78 L428.86,234.62 L430.02,235.51 L431.13,236.45 L432.20,237.46 L433.22,238.51 L434.20,239.61 L435.13,240.76 L436.01,241.95 L436.86,243.18 L437.66,244.45 L438.42,245.76 L439.15,247.10 L439.84,248.47 L440.49,249.87 L441.11,251.29 L441.69,252.74 L442.25,254.21 L442.77,255.70 L443.27,257.20 L443.73,258.72 L444.18,260.24 L444.60,261.78 L444.99,263.32 L445.37,264.87 L445.72,266.41 L446.05,267.96 L446.37,269.50 L446.67,271.03 L446.96,272.56 L447.23,274.07 L447.50,275.57 L447.75,277.06 L447.99,278.53 L448.23,280.00 L448.46,281.45 L448.68,282.90 L448.90,284.35 L449.13,285.79 L449.35,287.22 L449.57,288.65 L449.80,290.08 L450.04,291.51 L450.28,292.95 L450.53,294.38 L450.78,295.82 L451.05,297.26 L451.34,298.71 L451.63,300.16 L451.95,301.63 L452.28,303.10 L452.63,304.58 L453.00,306.08 L453.39,307.59 L453.81,309.12" fill="none" stroke="#1A8CF0" stroke-width="2.0" stroke-linejoin="round"/>
<path d="M72.26,304.06 L73.77,303.96 L75.28,303.87 L76.79,303.78 L78.30,303.69 L79.81,303.60 L81.32,303.51 L82.84,303.42 L84.35,303.34 L85.86,303.25 L87.37,303.16 L88.88,303.08 L90.39,302.99 L91.90,302.90 L93.41,302.82 L94.92,302.73 L96.43,302.65 L97.93,302.56 L99.44,302.48 L100.95,302.39 L102.46,302.31 L103.97,302.22 L105.48,302.14 L106.99,302.05 L108.50,301.97 L110.01,301.88 L111.51,301.80 L113.02,301.71 L114.53,301.62 L116.04,301.54 L117.55,301.45 L119.05,301.36 L120.56,301.28 L122.07,301.19 L123.57,301.10 L125.08,301.01 L126.59,300.92 L128.09,300.83 L129.60,300.74 L131.11,300.64 L132.61,300.55 L134.12,300.46 L135.62,300.36 L137.13,300.27 L138.63,300.17 L140.14,300.07 L141.64,299.98 L143.15,299.88 L144.65,299.77 L146.15,299.67 L147.66,299.57 L149.16,299.47 L150.67,299.36 L152.17,299.25 L153.67,299.15 L155.17,299.04 L156.68,298.92 L158.18,298.81 L159.68,298.70 L161.18,298.58 L162.68,298.47 L164.18,298.35 L165.69,298.23 L167.19,298.10 L168.69,297.98 L170.19,297.85 L171.69,297.73 L173.19,297.60 L174.69,297.47 L176.19,297.33 L177.68,297.20 L179.18,297.06 L180.68,296.92 L182.18,296.78 L183.68,296.64 L185.17,296.49 L186.67,296.34 L188.17,296.19 L189.66,296.04 L191.16,295.88 L192.66,295.73 L194.15,295.57 L195.65,295.40 L197.14,295.24 L198.64,295.07 L200.13,294.90 L201.62,294.73 L203.12,294.55 L204.61,294.37 L206.10,294.19 L207.60,294.01 L209.09,293.82 L210.58,293.63 L212.07,293.44 L213.56,293.25 L215.06,293.05 L216.55,292.85 L218.04,292.64 L219.53,292.43 L221.02,292.22 L222.51,292.01 L223.99,291.79 L225.48,291.57 L226.97,291.35 L228.46,291.12 L229.95,290.89 L231.43,290.65 L232.92,290.42 L234.41,290.18 L235.89,289.93 L237.38,289.68 L238.86,289.43 L240.35,289.18 L241.83,288.92 L243.31,288.65 L244.80,288.39 L246.28,288.11 L247.76,287.84 L249.24,287.56 L250.73,287.28 L252.21,286.99 L253.69,286.70 L255.17,286.41 L256.65,286.11 L258.13,285.80 L259.61,285.50 L261.09,285.18 L262.57,284.87 L264.04,284.55 L265.52,284.22 L267.00,283.89 L268.47,283.56 L269.95,283.22 L271.43,282.88 L272.90,282.53 L274.38,282.18 L275.85,281.82 L277.32,281.46 L278.80,281.10 L280.27,280.72 L281.74,280.35 L283.21,279.97 L284.68,279.58 L286.15,279.19 L287.62,278.80 L289.09,278.39 L290.56,277.99 L292.02,277.57 L293.48,277.15 L294.94,276.73 L296.40,276.29 L297.86,275.86 L299.31,275.41 L300.77,274.96 L302.22,274.50 L303.66,274.03 L305.11,273.56 L306.55,273.08 L307.98,272.59 L309.42,272.10 L310.85,271.60 L312.28,271.09 L313.70,270.57 L315.12,270.04 L316.53,269.51 L317.95,268.96 L319.35,268.41 L320.75,267.85 L322.15,267.28 L323.54,266.70 L324.93,266.12 L326.31,265.52 L327.69,264.91 L329.06,264.30 L330.43,263.67 L331.79,263.04 L333.14,262.39 L334.49,261.74 L335.84,261.07 L337.17,260.39 L338.50,259.71 L339.82,259.01 L341.14,258.30 L342.45,257.58 L343.75,256.85 L345.05,256.11 L346.33,255.36 L347.61,254.59 L348.89,253.82 L350.15,253.03 L351.41,252.23 L352.66,251.42 L353.90,250.59 L355.13,249.76 L356.35,248.91 L357.57,248.04 L358.77,247.17 L359.97,246.28 L361.15,245.38 L362.33,244.47 L363.51,243.54 L364.67,242.61 L365.83,241.66 L366.98,240.70 L368.12,239.74 L369.26,238.77 L370.40,237.79 L371.53,236.80 L372.65,235.80 L373.78,234.80 L374.90,233.80 L376.02,232.79 L377.14,231.77 L378.25,230.76 L379.37,229.74 L380.48,228.71 L381.60,227.69 L382.72,226.67 L383.84,225.65 L384.96,224.62 L386.09,223.60 L387.22,222.58 L388.35,221.57 L389.48,220.55 L390.63,219.55 L391.77,218.54 L392.93,217.54 L394.08,216.55 L395.25,215.56 L396.43,214.58 L397.61,213.61 L398.80,212.65 L400.00,211.70 L401.21,210.75 L402.43,209.82 L403.66,208.90 L404.90,207.99 L406.16,207.09 L407.42,206.20 L408.70,205.33 L410.00,204.48 L411.31,203.64 L412.63,202.85 L413.96,202.10 L415.31,201.42 L416.67,200.81 L418.05,200.30 L419.44,199.90 L420.85,199.62 L422.27,199.48 L423.71,199.48 L425.14,199.64 L426.57,199.92 L427.97,200.33 L429.32,200.86 L430.61,201.48 L431.83,202.19 L432.97,202.99 L434.04,203.86 L435.05,204.81 L435.99,205.84 L436.87,206.92 L437.69,208.08 L438.46,209.28 L439.18,210.55 L439.85,211.86 L440.48,213.22 L441.06,214.62 L441.61,216.05 L442.12,217.52 L442.60,219.02 L443.05,220.54 L443.47,222.07 L443.87,223.63 L444.26,225.19 L444.62,226.76 L444.98,228.33 L445.32,229.90 L445.66,231.47 L446.00,233.02 L446.32,234.56 L446.65,236.10 L446.97,237.63 L447.28,239.15 L447.59,240.67 L447.89,242.17 L448.19,243.67 L448.48,245.17 L448.77,246.66 L449.05,248.14 L449.33,249.62 L449.60,251.10 L449.86,252.57 L450.11,254.03 L450.36,255.50 L450.61,256.96 L450.84,258.42 L451.07,259.87 L451.29,261.33 L451.50,262.78 L451.71,264.23 L451.91,265.68 L452.10,267.13 L452.29,268.59 L452.46,270.04 L452.63,271.49 L452.79,272.95 L452.94,274.40 L453.08,275.86 L453.21,277.32 L453.34,278.79 L453.46,280.26 L453.56,281.73 L453.66,283.20 L453.75,284.68 L453.83,286.17 L453.90,287.66 L453.96,289.16 L454.00,290.66 L454.04,292.17 L454.07,293.68 L454.09,295.21 L454.10,296.74 L454.10,298.28 L454.09,299.83 L454.06,301.38 L454.03,302.95 L453.98,304.53 L453.92,306.11 L453.85,307.71 L453.77,309.32" fill="none" stroke="#FF8A00" stroke-width="2.4" stroke-dasharray="10.5 5 2 5" stroke-linejoin="round"/>
</g>
<line x1="72.30" y1="309.3" x2="453.80" y2="309.3" stroke="#222" stroke-width="1.3"/>
<path d="M72.30,15.20 H453.80 V370.40 H72.30 Z" fill="none" stroke="#222222" stroke-width="1.3"/>
<line x1="72.30" y1="193.00" x2="453.80" y2="193.00" stroke="#444" stroke-width="1.8"/>
<path d="M72.30,192.29 L74.80,192.29 M72.30,180.50 L76.80,180.50 M72.30,168.71 L74.80,168.71 M72.30,156.92 L76.80,156.92 M72.30,145.13 L74.80,145.13 M72.30,133.34 L76.80,133.34 M72.30,121.55 L74.80,121.55 M72.30,109.76 L76.80,109.76 M72.30,97.97 L74.80,97.97 M72.30,86.18 L76.80,86.18 M72.30,74.39 L74.80,74.39 M72.30,62.60 L76.80,62.60 M72.30,50.81 L74.80,50.81 M72.30,39.02 L76.80,39.02 M72.30,27.23 L74.80,27.23 M72.30,15.44 L76.80,15.44 M72.30,363.72 L76.80,363.72 M72.30,350.04 L74.80,350.04 M72.30,336.36 L76.80,336.36 M72.30,322.68 L74.80,322.68 M72.30,309.00 L76.80,309.00 M72.30,295.32 L74.80,295.32 M72.30,281.64 L76.80,281.64 M72.30,267.96 L74.80,267.96 M72.30,254.28 L76.80,254.28 M72.30,240.60 L74.80,240.60 M72.30,226.92 L76.80,226.92 M72.30,213.24 L74.80,213.24 M72.30,199.56 L76.80,199.56 M453.80,192.02 L449.30,192.02 M453.80,180.98 L451.30,180.98 M453.80,169.93 L449.30,169.93 M453.80,158.89 L451.30,158.89 M453.80,147.84 L449.30,147.84 M453.80,136.80 L451.30,136.80 M453.80,125.75 L449.30,125.75 M453.80,114.70 L451.30,114.70 M453.80,103.66 L449.30,103.66 M453.80,92.61 L451.30,92.61 M453.80,81.57 L449.30,81.57 M453.80,70.53 L451.30,70.53 M453.80,59.48 L449.30,59.48 M453.80,48.44 L451.30,48.44 M453.80,37.39 L449.30,37.39 M453.80,26.34 L451.30,26.34 M453.80,15.30 L449.30,15.30 M72.30,370.40 L72.30,365.90 M72.30,193.00 L72.30,188.50 M91.38,370.40 L91.38,367.90 M91.38,193.00 L91.38,190.50 M110.45,370.40 L110.45,365.90 M110.45,193.00 L110.45,188.50 M129.53,370.40 L129.53,367.90 M129.53,193.00 L129.53,190.50 M148.60,370.40 L148.60,365.90 M148.60,193.00 L148.60,188.50 M167.68,370.40 L167.68,367.90 M167.68,193.00 L167.68,190.50 M186.75,370.40 L186.75,365.90 M186.75,193.00 L186.75,188.50 M205.82,370.40 L205.82,367.90 M205.82,193.00 L205.82,190.50 M224.90,370.40 L224.90,365.90 M224.90,193.00 L224.90,188.50 M243.98,370.40 L243.98,367.90 M243.98,193.00 L243.98,190.50 M263.05,370.40 L263.05,365.90 M263.05,193.00 L263.05,188.50 M282.12,370.40 L282.12,367.90 M282.12,193.00 L282.12,190.50 M301.20,370.40 L301.20,365.90 M301.20,193.00 L301.20,188.50 M320.27,370.40 L320.27,367.90 M320.27,193.00 L320.27,190.50 M339.35,370.40 L339.35,365.90 M339.35,193.00 L339.35,188.50 M358.43,370.40 L358.43,367.90 M358.43,193.00 L358.43,190.50 M377.50,370.40 L377.50,365.90 M377.50,193.00 L377.50,188.50 M396.57,370.40 L396.57,367.90 M396.57,193.00 L396.57,190.50 M415.65,370.40 L415.65,365.90 M415.65,193.00 L415.65,188.50 M434.73,370.40 L434.73,367.90 M434.73,193.00 L434.73,190.50 M453.80,370.40 L453.80,365.90 M453.80,193.00 L453.80,188.50 " stroke="#222222" stroke-width="1.1" fill="none"/>
<text transform="translate(66.30,183.90) scale(1.000,1)" font-family="'Liberation Serif', serif" font-size="10.5" text-anchor="end" fill="#222" stroke="#222" stroke-width="0.15">0.000</text>
<text transform="translate(66.30,160.32) scale(1.000,1)" font-family="'Liberation Serif', serif" font-size="10.5" text-anchor="end" fill="#222" stroke="#222" stroke-width="0.15">0.002</text>
<text transform="translate(66.30,136.74) scale(1.000,1)" font-family="'Liberation Serif', serif" font-size="10.5" text-anchor="end" fill="#222" stroke="#222" stroke-width="0.15">0.004</text>
<text transform="translate(66.30,113.16) scale(1.000,1)" font-family="'Liberation Serif', serif" font-size="10.5" text-anchor="end" fill="#222" stroke="#222" stroke-width="0.15">0.006</text>
<text transform="translate(66.30,89.58) scale(1.000,1)" font-family="'Liberation Serif', serif" font-size="10.5" text-anchor="end" fill="#222" stroke="#222" stroke-width="0.15">0.008</text>
<text transform="translate(66.30,66.00) scale(1.000,1)" font-family="'Liberation Serif', serif" font-size="10.5" text-anchor="end" fill="#222" stroke="#222" stroke-width="0.15">0.010</text>
<text transform="translate(66.30,42.42) scale(1.000,1)" font-family="'Liberation Serif', serif" font-size="10.5" text-anchor="end" fill="#222" stroke="#222" stroke-width="0.15">0.012</text>
<text transform="translate(66.30,18.84) scale(1.000,1)" font-family="'Liberation Serif', serif" font-size="10.5" text-anchor="end" fill="#222" stroke="#222" stroke-width="0.15">0.014</text>
<text transform="translate(66.30,367.12) scale(1.000,1)" font-family="'Liberation Serif', serif" font-size="10.5" text-anchor="end" fill="#222" stroke="#222" stroke-width="0.15">-0.004</text>
<text transform="translate(66.30,339.76) scale(1.000,1)" font-family="'Liberation Serif', serif" font-size="10.5" text-anchor="end" fill="#222" stroke="#222" stroke-width="0.15">-0.002</text>
<text transform="translate(66.30,312.40) scale(1.000,1)" font-family="'Liberation Serif', serif" font-size="10.5" text-anchor="end" fill="#222" stroke="#222" stroke-width="0.15">0.000</text>
<text transform="translate(66.30,285.04) scale(1.000,1)" font-family="'Liberation Serif', serif" font-size="10.5" text-anchor="end" fill="#222" stroke="#222" stroke-width="0.15">0.002</text>
<text transform="translate(66.30,257.68) scale(1.000,1)" font-family="'Liberation Serif', serif" font-size="10.5" text-anchor="end" fill="#222" stroke="#222" stroke-width="0.15">0.004</text>
<text transform="translate(66.30,230.32) scale(1.000,1)" font-family="'Liberation Serif', serif" font-size="10.5" text-anchor="end" fill="#222" stroke="#222" stroke-width="0.15">0.006</text>
<text transform="translate(66.30,202.96) scale(1.000,1)" font-family="'Liberation Serif', serif" font-size="10.5" text-anchor="end" fill="#222" stroke="#222" stroke-width="0.15">0.008</text>
<text transform="translate(459.50,195.42) scale(1.000,1)" font-family="'Liberation Serif', serif" font-size="10.5" text-anchor="start" fill="#222" stroke="#222" stroke-width="0.15">2050</text>
<text transform="translate(459.50,173.33) scale(1.000,1)" font-family="'Liberation Serif', serif" font-size="10.5" text-anchor="start" fill="#222" stroke="#222" stroke-width="0.15">2100</text>
<text transform="translate(459.50,151.24) scale(1.000,1)" font-family="'Liberation Serif', serif" font-size="10.5" text-anchor="start" fill="#222" stroke="#222" stroke-width="0.15">2150</text>
<text transform="translate(459.50,129.15) scale(1.000,1)" font-family="'Liberation Serif', serif" font-size="10.5" text-anchor="start" fill="#222" stroke="#222" stroke-width="0.15">2200</text>
<text transform="translate(459.50,107.06) scale(1.000,1)" font-family="'Liberation Serif', serif" font-size="10.5" text-anchor="start" fill="#222" stroke="#222" stroke-width="0.15">2250</text>
<text transform="translate(459.50,84.97) scale(1.000,1)" font-family="'Liberation Serif', serif" font-size="10.5" text-anchor="start" fill="#222" stroke="#222" stroke-width="0.15">2300</text>
<text transform="translate(459.50,62.88) scale(1.000,1)" font-family="'Liberation Serif', serif" font-size="10.5" text-anchor="start" fill="#222" stroke="#222" stroke-width="0.15">2350</text>
<text transform="translate(459.50,40.79) scale(1.000,1)" font-family="'Liberation Serif', serif" font-size="10.5" text-anchor="start" fill="#222" stroke="#222" stroke-width="0.15">2400</text>
<text transform="translate(459.50,18.70) scale(1.000,1)" font-family="'Liberation Serif', serif" font-size="10.5" text-anchor="start" fill="#222" stroke="#222" stroke-width="0.15">2450</text>
<text transform="translate(72.30,384.20) scale(1.000,1)" font-family="'Liberation Serif', serif" font-size="10.5" text-anchor="middle" fill="#222" stroke="#222" stroke-width="0.15">0</text>
<text transform="translate(110.45,384.20) scale(1.000,1)" font-family="'Liberation Serif', serif" font-size="10.5" text-anchor="middle" fill="#222" stroke="#222" stroke-width="0.15">10</text>
<text transform="translate(148.60,384.20) scale(1.000,1)" font-family="'Liberation Serif', serif" font-size="10.5" text-anchor="middle" fill="#222" stroke="#222" stroke-width="0.15">20</text>
<text transform="translate(186.75,384.20) scale(1.000,1)" font-family="'Liberation Serif', serif" font-size="10.5" text-anchor="middle" fill="#222" stroke="#222" stroke-width="0.15">30</text>
<text transform="translate(224.90,384.20) scale(1.000,1)" font-family="'Liberation Serif', serif" font-size="10.5" text-anchor="middle" fill="#222" stroke="#222" stroke-width="0.15">40</text>
<text transform="translate(263.05,384.20) scale(1.000,1)" font-family="'Liberation Serif', serif" font-size="10.5" text-anchor="middle" fill="#222" stroke="#222" stroke-width="0.15">50</text>
<text transform="translate(301.20,384.20) scale(1.000,1)" font-family="'Liberation Serif', serif" font-size="10.5" text-anchor="middle" fill="#222" stroke="#222" stroke-width="0.15">60</text>
<text transform="translate(339.35,384.20) scale(1.000,1)" font-family="'Liberation Serif', serif" font-size="10.5" text-anchor="middle" fill="#222" stroke="#222" stroke-width="0.15">70</text>
<text transform="translate(377.50,384.20) scale(1.000,1)" font-family="'Liberation Serif', serif" font-size="10.5" text-anchor="middle" fill="#222" stroke="#222" stroke-width="0.15">80</text>
<text transform="translate(415.65,384.20) scale(1.000,1)" font-family="'Liberation Serif', serif" font-size="10.5" text-anchor="middle" fill="#222" stroke="#222" stroke-width="0.15">90</text>
<text transform="translate(453.80,384.20) scale(1.000,1)" font-family="'Liberation Serif', serif" font-size="10.5" text-anchor="middle" fill="#222" stroke="#222" stroke-width="0.15">100</text>
<text transform="translate(26.00,97.60) scale(1.000,1) rotate(-90)" font-family="'Liberation Serif', serif" font-size="13.6" text-anchor="middle" fill="#222" stroke="#222" stroke-width="0.15">Maximum mole fraction</text>
<text transform="translate(17.00,281.00) scale(1.000,1) rotate(-90)" font-family="'Liberation Serif', serif" font-size="13.7" text-anchor="middle" fill="#222" stroke="#222" stroke-width="0.15">Integrated ROP of NO / (kmol&#183;m<tspan font-size="8" dy="-5">-2</tspan><tspan dy="5">&#183;s</tspan><tspan font-size="8" dy="-5">-1</tspan><tspan dy="5">)</tspan></text>
<text transform="translate(496.00,103.30) scale(1.000,1) rotate(-90)" font-family="'Liberation Serif', serif" font-size="13.5" text-anchor="middle" fill="#222" stroke="#222" stroke-width="0.15">Adabatic flame temperautre (<tspan font-style="italic">T</tspan><tspan font-size="8.5" dy="2.5">ad</tspan><tspan dy="-2.5">) / K</tspan></text>
<text transform="translate(262.40,407.60) scale(1.000,1)" font-family="'Liberation Serif', serif" font-size="13.35" text-anchor="middle" fill="#222" stroke="#222" stroke-width="0.15">Hydrogen mole fraction (<tspan font-style="italic">&#945;</tspan>) / %</text>
<rect x="314.0" y="32.0" width="22.5" height="11.5" fill="#fff"/>
<rect x="250.5" y="82.5" width="52.0" height="12.0" fill="#fff"/>
<rect x="347.5" y="78.0" width="18.5" height="18.0" fill="#fff"/>
<rect x="316.5" y="110.5" width="23.0" height="13.5" fill="#fff"/>
<rect x="229.5" y="153.5" width="55.5" height="12.0" fill="#fff"/>
<rect x="413.5" y="139.5" width="11.0" height="11.5" fill="#fff"/>
<rect x="432.5" y="147.0" width="11.5" height="11.0" fill="#fff"/>
<rect x="320.5" y="178.0" width="42.5" height="10.5" fill="#fff"/>
<rect x="405.5" y="172.0" width="19.3" height="11.5" fill="#fff"/>
<rect x="424.8" y="179.5" width="6.7" height="7.5" fill="#fff"/>
<rect x="101.0" y="201.0" width="57.0" height="35.5" fill="#fff"/>
<text transform="translate(314.90,42.30) scale(1.000,1)" font-family="'Liberation Serif', serif" font-size="14.0" text-anchor="start" fill="#222" stroke="#222" stroke-width="0.15">NO</text>
<text transform="translate(251.30,94.00) scale(1.000,1)" font-family="'Liberation Serif', serif" font-size="14.0" text-anchor="start" fill="#222" stroke="#222" stroke-width="0.15">NH&#215;100</text>
<text transform="translate(348.00,88.90) scale(1.000,1)" font-family="'Liberation Serif', serif" font-size="14.0" text-anchor="start" fill="#222" stroke="#222" stroke-width="0.15">T<tspan font-size="9" dy="4">ad</tspan></text>
<text transform="translate(317.50,123.00) scale(1.000,1)" font-family="'Liberation Serif', serif" font-size="14.0" text-anchor="start" fill="#222" stroke="#222" stroke-width="0.15">OH</text>
<text transform="translate(231.00,164.40) scale(1.000,1)" font-family="'Liberation Serif', serif" font-size="14.0" text-anchor="start" fill="#222" stroke="#222" stroke-width="0.15">HNO&#215;10</text>
<text transform="translate(414.10,149.70) scale(1.000,1)" font-family="'Liberation Serif', serif" font-size="14.0" text-anchor="start" fill="#222" stroke="#222" stroke-width="0.15">H</text>
<text transform="translate(433.20,156.80) scale(1.000,1)" font-family="'Liberation Serif', serif" font-size="14.0" text-anchor="start" fill="#222" stroke="#222" stroke-width="0.15">O</text>
<text transform="translate(321.00,187.30) scale(1.000,1)" font-family="'Liberation Serif', serif" font-size="14.5" text-anchor="start" fill="#222" stroke="#222" stroke-width="0.15">N&#215;100</text>
<text transform="translate(406.30,181.90) scale(1.000,1)" font-family="'Liberation Serif', serif" font-size="14.0" text-anchor="start" fill="#222" stroke="#222" stroke-width="0.15">NH<tspan font-size="9" dy="4">2</tspan></text>
<text transform="translate(106.10,212.00) scale(1.000,1)" font-family="'Liberation Serif', serif" font-size="14.0" text-anchor="start" fill="#222" stroke="#222" stroke-width="0.15"><tspan font-style="italic">CR</tspan> = 10</text>
<text transform="translate(105.60,231.50) scale(1.000,1)" font-family="'Liberation Serif', serif" font-size="14.0" text-anchor="start" fill="#222" stroke="#222" stroke-width="0.15"><tspan font-style="italic">&#981;</tspan></text>
<text transform="translate(116.90,231.50) scale(1.000,1)" font-family="'Liberation Serif', serif" font-size="14.0" text-anchor="start" fill="#222" stroke="#222" stroke-width="0.15">=</text>
<text transform="translate(127.60,231.50) scale(1.000,1)" font-family="'Liberation Serif', serif" font-size="14.0" text-anchor="start" fill="#222" stroke="#222" stroke-width="0.15">0.75</text>
<line x1="37.0" y1="424.2" x2="68.2" y2="424.2" stroke="#FF8A00" stroke-width="2.4" stroke-dasharray="10.5 5 2 5"/>
<text transform="translate(71.20,429.40) scale(0.989,1)" font-family="'Liberation Serif', serif" font-size="13.6" text-anchor="start" fill="#222" stroke="#222" stroke-width="0.15">Total production</text>
<line x1="37.0" y1="440.8" x2="68.2" y2="440.8" stroke="#EE7BEE" stroke-width="1.6" stroke-dasharray="6 5.5"/>
<text transform="translate(71.20,446.00) scale(0.989,1)" font-family="'Liberation Serif', serif" font-size="13.6" text-anchor="start" fill="#222" stroke="#222" stroke-width="0.15">#207 NO + O (+M) &lt;=&gt; NO<tspan font-size="9" dy="3">2</tspan><tspan dy="-3"> (+M)</tspan></text>
<line x1="37.0" y1="460.1" x2="68.2" y2="460.1" stroke="#1A8CF0" stroke-width="1.6" stroke-dasharray="6 5.5"/>
<text transform="translate(71.20,465.30) scale(0.989,1)" font-family="'Liberation Serif', serif" font-size="13.6" text-anchor="start" fill="#222" stroke="#222" stroke-width="0.15">#202 HO<tspan font-size="9" dy="3">2</tspan><tspan dy="-3"> + NO &lt;=&gt; NO</tspan><tspan font-size="9" dy="3">2</tspan><tspan dy="-3"> + OH</tspan></text>
<line x1="37.0" y1="479.8" x2="68.2" y2="479.8" stroke="#646464" stroke-width="1.6" stroke-dasharray="6 5.5"/>
<text transform="translate(71.20,485.00) scale(0.989,1)" font-family="'Liberation Serif', serif" font-size="13.6" text-anchor="start" fill="#222" stroke="#222" stroke-width="0.15">#75 NH<tspan font-size="9" dy="3">2</tspan><tspan dy="-3"> + NO &lt;=&gt; NNH + OH</tspan></text>
<line x1="37.0" y1="499.4" x2="68.2" y2="499.4" stroke="#FFA300" stroke-width="1.6" stroke-dasharray="6 5.5"/>
<text transform="translate(71.20,504.60) scale(0.989,1)" font-family="'Liberation Serif', serif" font-size="13.6" text-anchor="start" fill="#222" stroke="#222" stroke-width="0.15">#56 NH + NO &lt;=&gt; N<tspan font-size="9" dy="3">2</tspan><tspan dy="-3"> + OH</tspan></text>
<line x1="37.0" y1="518.4" x2="68.2" y2="518.4" stroke="#F5444A" stroke-width="1.6" stroke-dasharray="6 5.5"/>
<text transform="translate(71.20,523.60) scale(0.989,1)" font-family="'Liberation Serif', serif" font-size="13.6" text-anchor="start" fill="#222" stroke="#222" stroke-width="0.15">#55 NH + NO &lt;=&gt; H + N<tspan font-size="9" dy="3">2</tspan><tspan dy="-3">O</tspan></text>
<line x1="37.0" y1="538.1" x2="68.2" y2="538.1" stroke="#12C08A" stroke-width="1.6" stroke-dasharray="6 5.5"/>
<text transform="translate(71.20,543.30) scale(0.989,1)" font-family="'Liberation Serif', serif" font-size="13.6" text-anchor="start" fill="#222" stroke="#222" stroke-width="0.15">#44 N + NO &lt;=&gt; N<tspan font-size="9" dy="3">2</tspan><tspan dy="-3"> + O</tspan></text>
<line x1="270.6" y1="422.0" x2="301.0" y2="422.0" stroke="#646464" stroke-width="1.6"/>
<text transform="translate(304.00,426.60) scale(0.989,1)" font-family="'Liberation Serif', serif" font-size="13.6" text-anchor="start" fill="#222" stroke="#222" stroke-width="0.15">#205 H + NO<tspan font-size="9" dy="3">2</tspan><tspan dy="-3"> &lt;=&gt; NO + OH</tspan></text>
<line x1="270.6" y1="441.6" x2="301.0" y2="441.6" stroke="#EE7BEE" stroke-width="1.6"/>
<text transform="translate(304.00,446.20) scale(0.989,1)" font-family="'Liberation Serif', serif" font-size="13.6" text-anchor="start" fill="#222" stroke="#222" stroke-width="0.15">#185 HNO + O<tspan font-size="9" dy="3">2</tspan><tspan dy="-3"> &lt;=&gt; HO</tspan><tspan font-size="9" dy="3">2</tspan><tspan dy="-3"> + NO</tspan></text>
<line x1="270.6" y1="461.0" x2="301.0" y2="461.0" stroke="#F5444A" stroke-width="1.6"/>
<text transform="translate(304.00,465.60) scale(0.989,1)" font-family="'Liberation Serif', serif" font-size="13.6" text-anchor="start" fill="#222" stroke="#222" stroke-width="0.15">#184 HNO + OH &lt;=&gt; H<tspan font-size="9" dy="3">2</tspan><tspan dy="-3">O + NO</tspan></text>
<line x1="270.6" y1="480.3" x2="301.0" y2="480.3" stroke="#1A8CF0" stroke-width="1.6"/>
<text transform="translate(304.00,484.90) scale(0.989,1)" font-family="'Liberation Serif', serif" font-size="13.6" text-anchor="start" fill="#222" stroke="#222" stroke-width="0.15">#183 H + HNO &lt;=&gt; H<tspan font-size="9" dy="3">2</tspan><tspan dy="-3"> + NO</tspan></text>
<line x1="270.6" y1="499.9" x2="301.0" y2="499.9" stroke="#12C08A" stroke-width="1.6"/>
<text transform="translate(304.00,504.50) scale(0.989,1)" font-family="'Liberation Serif', serif" font-size="13.6" text-anchor="start" fill="#222" stroke="#222" stroke-width="0.15">#181 H + NO (+M) &lt;=&gt; HNO (+M)</text>
<line x1="270.6" y1="516.2" x2="301.0" y2="516.2" stroke="#FFA100" stroke-width="1.6"/>
<text transform="translate(304.00,520.80) scale(0.989,1)" font-family="'Liberation Serif', serif" font-size="13.6" text-anchor="start" fill="#222" stroke="#222" stroke-width="0.15">#49 NH + OH &lt;=&gt; H<tspan font-size="9" dy="3">2</tspan><tspan dy="-3"> + NO</tspan></text>
<line x1="270.6" y1="535.5" x2="301.0" y2="535.5" stroke="#1AD6DC" stroke-width="1.6"/>
<text transform="translate(304.00,540.10) scale(0.989,1)" font-family="'Liberation Serif', serif" font-size="13.6" text-anchor="start" fill="#222" stroke="#222" stroke-width="0.15">#42 N + O<tspan font-size="9" dy="3">2</tspan><tspan dy="-3"> &lt;=&gt; NO + O</tspan></text>
</svg>
</body></html>
